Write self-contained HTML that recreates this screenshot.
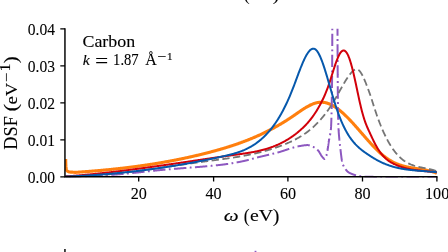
<!DOCTYPE html>
<html><head><meta charset="utf-8"><title>DSF Carbon</title>
<style>
html,body{margin:0;padding:0;background:#fff;}
body{width:448px;height:252px;overflow:hidden;position:relative;font-family:"Liberation Serif","DejaVu Serif",serif;color:#000;}
svg{position:absolute;left:0;top:0;display:block;}
text{font-family:"Liberation Serif","DejaVu Serif",serif;fill:#000;stroke:#000;stroke-width:0.1px;}
</style></head><body>
<svg width="448" height="252" viewBox="0 0 448 252">
<defs><clipPath id="ax"><rect x="65" y="28.6" width="372.4" height="149"/></clipPath></defs>
<rect width="448" height="252" fill="#fff"/>
<g clip-path="url(#ax)" fill="none" stroke-linejoin="round">
<path d="M65.70 159.00 L65.70 159.67 L65.71 160.33 L65.72 160.98 L65.73 161.61 L65.74 162.23 L65.76 162.84 L65.78 163.44 L65.80 164.02 L65.83 164.59 L65.85 165.14 L65.88 165.68 L65.91 166.21 L65.95 166.74 L66.01 167.28 L66.08 167.81 L66.15 168.32 L66.25 168.81 L66.35 169.27 L66.47 169.69 L66.59 170.06 L66.73 170.37 L66.94 170.66 L67.21 170.94 L67.54 171.22 L67.92 171.46 L68.33 171.67 L68.76 171.84 L69.20 171.96 L69.62 172.01 L70.06 172.05 L70.53 172.08 L71.01 172.10 L71.52 172.13 L72.05 172.15 L72.60 172.17 L73.17 172.18 L73.76 172.19 L74.37 172.20 L75.00 172.20 L75.00 172.41 L75.50 172.37 L76.00 172.34 L76.50 172.31 L77.00 172.27 L77.50 172.24 L78.00 172.20 L78.50 172.17 L79.00 172.14 L79.50 172.10 L80.00 172.07 L80.50 172.03 L81.00 171.99 L81.50 171.96 L82.00 171.92 L82.50 171.89 L83.00 171.85 L83.50 171.81 L84.00 171.78 L84.50 171.74 L85.00 171.70 L85.50 171.66 L86.00 171.63 L86.50 171.59 L87.00 171.55 L87.50 171.51 L88.00 171.47 L88.50 171.43 L89.00 171.40 L89.50 171.36 L90.00 171.32 L90.50 171.28 L91.00 171.24 L91.50 171.20 L92.00 171.15 L92.50 171.11 L93.00 171.07 L93.50 171.03 L94.00 170.99 L94.50 170.95 L95.00 170.91 L95.50 170.86 L96.00 170.82 L96.50 170.78 L97.00 170.74 L97.50 170.69 L98.00 170.65 L98.50 170.60 L99.00 170.56 L99.50 170.52 L100.00 170.47 L100.50 170.43 L101.00 170.38 L101.50 170.34 L102.00 170.29 L102.50 170.24 L103.00 170.20 L103.50 170.15 L104.00 170.10 L104.50 170.06 L105.00 170.01 L105.50 169.96 L106.00 169.91 L106.50 169.87 L107.00 169.82 L107.50 169.77 L108.00 169.72 L108.50 169.67 L109.00 169.62 L109.50 169.57 L110.00 169.52 L110.50 169.47 L111.00 169.42 L111.50 169.37 L112.00 169.32 L112.50 169.27 L113.00 169.21 L113.50 169.16 L114.00 169.11 L114.50 169.06 L115.00 169.00 L115.50 168.95 L116.00 168.90 L116.50 168.84 L117.00 168.79 L117.50 168.73 L118.00 168.68 L118.50 168.62 L119.00 168.57 L119.50 168.51 L120.00 168.46 L120.50 168.40 L121.00 168.34 L121.50 168.29 L122.00 168.23 L122.50 168.17 L123.00 168.11 L123.50 168.05 L124.00 167.99 L124.50 167.94 L125.00 167.88 L125.50 167.82 L126.00 167.76 L126.50 167.70 L127.00 167.64 L127.50 167.58 L128.00 167.51 L128.50 167.45 L129.00 167.39 L129.50 167.33 L130.00 167.27 L130.50 167.20 L131.00 167.14 L131.50 167.08 L132.00 167.01 L132.50 166.95 L133.00 166.88 L133.50 166.82 L134.00 166.75 L134.50 166.69 L135.00 166.62 L135.50 166.56 L136.00 166.49 L136.50 166.42 L137.00 166.35 L137.50 166.29 L138.00 166.22 L138.50 166.15 L139.00 166.08 L139.50 166.01 L140.00 165.94 L140.50 165.87 L141.00 165.80 L141.50 165.73 L142.00 165.66 L142.50 165.59 L143.00 165.52 L143.50 165.45 L144.00 165.37 L144.50 165.30 L145.00 165.23 L145.50 165.15 L146.00 165.08 L146.50 165.01 L147.00 164.93 L147.50 164.86 L148.00 164.78 L148.50 164.71 L149.00 164.63 L149.50 164.55 L150.00 164.48 L150.50 164.40 L151.00 164.32 L151.50 164.24 L152.00 164.16 L152.50 164.09 L153.00 164.01 L153.50 163.93 L154.00 163.85 L154.50 163.77 L155.00 163.69 L155.50 163.60 L156.00 163.52 L156.50 163.44 L157.00 163.36 L157.50 163.28 L158.00 163.19 L158.50 163.11 L159.00 163.03 L159.50 162.94 L160.00 162.86 L160.50 162.77 L161.00 162.69 L161.50 162.60 L162.00 162.51 L162.50 162.43 L163.00 162.34 L163.50 162.25 L164.00 162.16 L164.50 162.08 L165.00 161.99 L165.50 161.90 L166.00 161.81 L166.50 161.72 L167.00 161.63 L167.50 161.54 L168.00 161.44 L168.50 161.35 L169.00 161.26 L169.50 161.17 L170.00 161.08 L170.50 160.98 L171.00 160.89 L171.50 160.79 L172.00 160.70 L172.50 160.60 L173.00 160.51 L173.50 160.41 L174.00 160.32 L174.50 160.22 L175.00 160.12 L175.50 160.02 L176.00 159.92 L176.50 159.83 L177.00 159.73 L177.50 159.63 L178.00 159.53 L178.50 159.43 L179.00 159.33 L179.50 159.22 L180.00 159.12 L180.50 159.02 L181.00 158.92 L181.50 158.81 L182.00 158.71 L182.50 158.61 L183.00 158.50 L183.50 158.40 L184.00 158.29 L184.50 158.18 L185.00 158.08 L185.50 157.97 L186.00 157.86 L186.50 157.76 L187.00 157.65 L187.50 157.54 L188.00 157.43 L188.50 157.32 L189.00 157.21 L189.50 157.10 L190.00 156.99 L190.50 156.88 L191.00 156.76 L191.50 156.65 L192.00 156.54 L192.50 156.43 L193.00 156.31 L193.50 156.20 L194.00 156.08 L194.50 155.97 L195.00 155.85 L195.50 155.73 L196.00 155.62 L196.50 155.50 L197.00 155.38 L197.50 155.26 L198.00 155.14 L198.50 155.02 L199.00 154.90 L199.50 154.78 L200.00 154.66 L200.50 154.54 L201.00 154.42 L201.50 154.30 L202.00 154.17 L202.50 154.05 L203.00 153.93 L203.50 153.80 L204.00 153.68 L204.50 153.55 L205.00 153.43 L205.50 153.30 L206.00 153.17 L206.50 153.05 L207.00 152.92 L207.50 152.79 L208.00 152.66 L208.50 152.53 L209.00 152.40 L209.50 152.27 L210.00 152.14 L210.50 152.01 L211.00 151.87 L211.50 151.74 L212.00 151.61 L212.50 151.47 L213.00 151.34 L213.50 151.20 L214.00 151.07 L214.50 150.93 L215.00 150.80 L215.50 150.66 L216.00 150.52 L216.50 150.38 L217.00 150.24 L217.50 150.10 L218.00 149.96 L218.50 149.82 L219.00 149.68 L219.50 149.53 L220.00 149.39 L220.50 149.24 L221.00 149.10 L221.50 148.95 L222.00 148.81 L222.50 148.66 L223.00 148.51 L223.50 148.36 L224.00 148.21 L224.50 148.06 L225.00 147.91 L225.50 147.76 L226.00 147.61 L226.50 147.45 L227.00 147.30 L227.50 147.14 L228.00 146.99 L228.50 146.83 L229.00 146.67 L229.50 146.51 L230.00 146.35 L230.50 146.19 L231.00 146.03 L231.50 145.87 L232.00 145.70 L232.50 145.54 L233.00 145.37 L233.50 145.21 L234.00 145.04 L234.50 144.87 L235.00 144.70 L235.50 144.53 L236.00 144.36 L236.50 144.19 L237.00 144.02 L237.50 143.84 L238.00 143.67 L238.50 143.49 L239.00 143.31 L239.50 143.14 L240.00 142.96 L240.50 142.78 L241.00 142.60 L241.50 142.41 L242.00 142.23 L242.50 142.04 L243.00 141.86 L243.50 141.67 L244.00 141.48 L244.50 141.29 L245.00 141.10 L245.50 140.91 L246.00 140.72 L246.50 140.53 L247.00 140.33 L247.50 140.13 L248.00 139.94 L248.50 139.74 L249.00 139.54 L249.50 139.34 L250.00 139.14 L250.50 138.93 L251.00 138.73 L251.50 138.52 L252.00 138.31 L252.50 138.10 L253.00 137.89 L253.50 137.68 L254.00 137.47 L254.50 137.26 L255.00 137.04 L255.50 136.83 L256.00 136.61 L256.50 136.39 L257.00 136.17 L257.50 135.95 L258.00 135.72 L258.50 135.50 L259.00 135.27 L259.50 135.04 L260.00 134.82 L260.50 134.59 L261.00 134.35 L261.50 134.12 L262.00 133.89 L262.50 133.65 L263.00 133.41 L263.50 133.17 L264.00 132.93 L264.50 132.69 L265.00 132.45 L265.50 132.20 L266.00 131.96 L266.50 131.71 L267.00 131.46 L267.50 131.21 L268.00 130.96 L268.50 130.70 L269.00 130.45 L269.50 130.19 L270.00 129.93 L270.50 129.67 L271.00 129.41 L271.50 129.14 L272.00 128.88 L272.50 128.61 L273.00 128.34 L273.50 128.07 L274.00 127.80 L274.50 127.53 L275.00 127.25 L275.50 126.98 L276.00 126.70 L276.50 126.42 L277.00 126.13 L277.50 125.85 L278.00 125.57 L278.50 125.28 L279.00 124.99 L279.50 124.70 L280.00 124.41 L280.50 124.11 L281.00 123.82 L281.50 123.52 L282.00 123.22 L282.50 122.92 L283.00 122.61 L283.50 122.31 L284.00 122.00 L284.50 121.69 L285.00 121.38 L285.50 121.07 L286.00 120.76 L286.50 120.44 L287.00 120.12 L287.50 119.80 L288.00 119.48 L288.50 119.16 L289.00 118.83 L289.50 118.51 L290.00 118.18 L290.50 117.84 L291.00 117.51 L291.50 117.18 L292.00 116.84 L292.50 116.50 L293.00 116.16 L293.50 115.82 L294.00 115.47 L294.50 115.13 L295.00 114.78 L295.50 114.43 L296.00 114.08 L296.50 113.73 L297.00 113.38 L297.50 113.04 L298.00 112.69 L298.50 112.34 L299.00 112.00 L299.50 111.65 L300.00 111.31 L300.50 110.97 L301.00 110.63 L301.50 110.29 L302.00 109.96 L302.50 109.63 L303.00 109.31 L303.50 108.98 L304.00 108.66 L304.50 108.35 L305.00 108.04 L305.50 107.74 L306.00 107.44 L306.50 107.14 L307.00 106.85 L307.50 106.57 L308.00 106.29 L308.50 106.02 L309.00 105.76 L309.50 105.50 L310.00 105.25 L310.50 105.01 L311.00 104.78 L311.50 104.56 L312.00 104.34 L312.50 104.13 L313.00 103.93 L313.50 103.74 L314.00 103.56 L314.50 103.39 L315.00 103.23 L315.50 103.08 L316.00 102.95 L316.50 102.82 L317.00 102.70 L317.50 102.60 L318.00 102.51 L318.50 102.43 L319.00 102.36 L319.50 102.30 L320.00 102.26 L320.50 102.23 L321.00 102.22 L321.50 102.21 L322.00 102.23 L322.50 102.25 L323.00 102.29 L323.50 102.35 L324.00 102.41 L324.50 102.49 L325.00 102.59 L325.50 102.69 L326.00 102.81 L326.50 102.95 L327.00 103.09 L327.50 103.25 L328.00 103.41 L328.50 103.60 L329.00 103.79 L329.50 103.99 L330.00 104.21 L330.50 104.43 L331.00 104.67 L331.50 104.92 L332.00 105.17 L332.50 105.44 L333.00 105.72 L333.50 106.01 L334.00 106.31 L334.50 106.62 L335.00 106.94 L335.50 107.27 L336.00 107.60 L336.50 107.95 L337.00 108.31 L337.50 108.67 L338.00 109.04 L338.50 109.42 L339.00 109.81 L339.50 110.21 L340.00 110.61 L340.50 111.03 L341.00 111.45 L341.50 111.87 L342.00 112.31 L342.50 112.75 L343.00 113.20 L343.50 113.65 L344.00 114.12 L344.50 114.58 L345.00 115.06 L345.50 115.54 L346.00 116.02 L346.50 116.51 L347.00 117.01 L347.50 117.51 L348.00 118.02 L348.50 118.53 L349.00 119.05 L349.50 119.57 L350.00 120.09 L350.50 120.62 L351.00 121.15 L351.50 121.69 L352.00 122.23 L352.50 122.78 L353.00 123.32 L353.50 123.87 L354.00 124.43 L354.50 124.98 L355.00 125.54 L355.50 126.10 L356.00 126.67 L356.50 127.23 L357.00 127.80 L357.50 128.37 L358.00 128.94 L358.50 129.52 L359.00 130.09 L359.50 130.66 L360.00 131.24 L360.50 131.81 L361.00 132.39 L361.50 132.97 L362.00 133.55 L362.50 134.12 L363.00 134.70 L363.50 135.28 L364.00 135.85 L364.50 136.43 L365.00 137.00 L365.50 137.57 L366.00 138.15 L366.50 138.72 L367.00 139.28 L367.50 139.85 L368.00 140.41 L368.50 140.98 L369.00 141.53 L369.50 142.09 L370.00 142.64 L370.50 143.19 L371.00 143.74 L371.50 144.29 L372.00 144.83 L372.50 145.36 L373.00 145.89 L373.50 146.42 L374.00 146.95 L374.50 147.47 L375.00 147.98 L375.50 148.49 L376.00 148.99 L376.50 149.49 L377.00 149.99 L377.50 150.47 L378.00 150.95 L378.50 151.43 L379.00 151.90 L379.50 152.36 L380.00 152.82 L380.50 153.27 L381.00 153.71 L381.50 154.14 L382.00 154.57 L382.50 154.99 L383.00 155.40 L383.50 155.81 L384.00 156.20 L384.50 156.59 L385.00 156.97 L385.50 157.35 L386.00 157.71 L386.50 158.07 L387.00 158.42 L387.50 158.76 L388.00 159.09 L388.50 159.42 L389.00 159.74 L389.50 160.05 L390.00 160.36 L390.50 160.65 L391.00 160.94 L391.50 161.23 L392.00 161.50 L392.50 161.77 L393.00 162.03 L393.50 162.29 L394.00 162.54 L394.50 162.78 L395.00 163.02 L395.50 163.24 L396.00 163.47 L396.50 163.68 L397.00 163.89 L397.50 164.09 L398.00 164.29 L398.50 164.48 L399.00 164.66 L399.50 164.84 L400.00 165.01 L400.50 165.18 L401.00 165.34 L401.50 165.50 L402.00 165.65 L402.50 165.79 L403.00 165.94 L403.50 166.07 L404.00 166.20 L404.50 166.33 L405.00 166.46 L405.50 166.58 L406.00 166.69 L406.50 166.81 L407.00 166.92 L407.50 167.02 L408.00 167.13 L408.50 167.23 L409.00 167.32 L409.50 167.42 L410.00 167.51 L410.50 167.60 L411.00 167.69 L411.50 167.78 L412.00 167.86 L412.50 167.94 L413.00 168.02 L413.50 168.10 L414.00 168.18 L414.50 168.26 L415.00 168.34 L415.50 168.41 L416.00 168.49 L416.50 168.56 L417.00 168.64 L417.50 168.71 L418.00 168.79 L418.50 168.86 L419.00 168.94 L419.50 169.02 L420.00 169.09 L420.50 169.17 L421.00 169.25 L421.50 169.33 L422.00 169.41 L422.50 169.50 L423.00 169.58 L423.50 169.67 L424.00 169.76 L424.50 169.85 L425.00 169.95 L425.50 170.04 L426.00 170.14 L426.50 170.24 L427.00 170.35 L427.50 170.46 L428.00 170.57 L428.50 170.68 L429.00 170.80 L429.50 170.93 L430.00 171.05 L430.50 171.18 L431.00 171.32 L431.50 171.46 L432.00 171.60 L432.50 171.75 L433.00 171.91 L433.50 172.07 L434.00 172.23 L434.50 172.40 L435.00 172.58 L435.50 172.76 L436.00 172.95 L436.50 173.14 L436.80 173.26" stroke="#ff7f0e" stroke-width="3.1" stroke-linecap="butt"/>
<path d="M332.30 28.60 L332.30 29.09 L332.30 29.58 L332.30 30.07 L332.30 30.56 L332.30 31.05 L332.30 31.53 L332.29 32.02 L332.29 32.50 L332.29 32.98 L332.29 33.46 L332.29 33.94 L332.29 34.42 L332.29 34.90 L332.29 35.37 L332.29 35.85 L332.29 36.32 L332.29 36.79 L332.28 37.26 L332.28 37.73 L332.28 38.20 L332.28 38.67 L332.28 39.14 L332.28 39.60 L332.28 40.06 L332.28 40.53 L332.27 40.99 L332.27 41.45 L332.27 41.91 L332.27 42.36 L332.27 42.82 L332.27 43.27 L332.27 43.73 L332.26 44.18 L332.26 44.63 L332.26 45.08 L332.26 45.53 L332.26 45.98 L332.26 46.42 L332.26 46.87 L332.25 47.31 L332.25 47.75 L332.25 48.19 L332.25 48.63 L332.25 49.07 L332.25 49.51 L332.24 49.95 L332.24 50.38 L332.24 50.81 L332.24 51.25 L332.24 51.68 L332.24 52.11 L332.23 52.53 L332.23 52.96 L332.23 53.39 L332.23 53.81 L332.23 54.23 L332.22 54.66 L332.22 55.08 L332.22 55.50 L332.22 55.91 L332.22 56.33 L332.21 56.75 L332.21 57.16 L332.21 57.57 L332.21 57.98 L332.21 58.39 L332.20 58.80 L332.20 59.21 L332.20 59.62 L332.20 60.02 L332.20 60.42 L332.19 60.83 L332.19 61.23 L332.19 61.63 L332.19 62.03 L332.19 62.42 L332.18 62.82 L332.18 63.21 L332.18 63.61 L332.18 64.00 L332.17 64.39 L332.17 64.78 L332.17 65.16 L332.17 65.55 L332.17 65.94 L332.16 66.32 L332.16 66.70 L332.16 67.08 L332.16 67.46 L332.15 67.84 L332.15 68.22 L332.15 68.59 L332.15 68.97 L332.14 69.34 L332.14 69.71 L332.14 70.08 L332.14 70.45 L332.14 70.82 L332.13 71.18 L332.13 71.55 L332.13 71.91 L332.13 72.27 L332.12 72.64 L332.12 72.99 L332.12 73.35 L332.12 73.71 L332.11 74.06 L332.11 74.42 L332.11 74.77 L332.11 75.12 L332.10 75.47 L332.10 75.82 L332.10 76.17 L332.10 76.51 L332.09 76.85 L332.09 77.19 L332.09 77.53 L332.09 77.86 L332.08 78.20 L332.08 78.53 L332.08 78.85 L332.08 79.18 L332.07 79.50 L332.07 79.82 L332.07 80.14 L332.06 80.46 L332.06 80.78 L332.06 81.09 L332.06 81.40 L332.05 81.71 L332.05 82.02 L332.05 82.33 L332.04 82.63 L332.04 82.93 L332.04 83.24 L332.03 83.54 L332.03 83.84 L332.03 84.13 L332.03 84.43 L332.02 84.73 L332.02 85.02 L332.02 85.32 L332.01 85.61 L332.01 85.90 L332.01 86.19 L332.00 86.48 L332.00 86.77 L331.99 87.06 L331.99 87.34 L331.99 87.63 L331.98 87.92 L331.98 88.20 L331.98 88.49 L331.97 88.77 L331.97 89.06 L331.97 89.34 L331.96 89.62 L331.96 89.91 L331.95 90.19 L331.95 90.47 L331.95 90.76 L331.94 91.04 L331.94 91.32 L331.93 91.61 L331.93 91.89 L331.93 92.17 L331.92 92.46 L331.92 92.74 L331.91 93.03 L331.91 93.31 L331.90 93.60 L331.90 93.89 L331.90 94.17 L331.89 94.46 L331.89 94.75 L331.88 95.04 L331.88 95.33 L331.87 95.62 L331.87 95.91 L331.86 96.20 L331.86 96.50 L331.85 96.79 L331.85 97.09 L331.84 97.39 L331.84 97.69 L331.83 97.99 L331.83 98.29 L331.82 98.59 L331.82 98.90 L331.81 99.20 L331.81 99.51 L331.80 99.82 L331.80 100.13 L331.79 100.44 L331.79 100.76 L331.78 101.07 L331.78 101.39 L331.77 101.71 L331.76 102.04 L331.76 102.36 L331.75 102.69 L331.75 103.01 L331.74 103.34 L331.74 103.67 L331.73 104.01 L331.72 104.34 L331.72 104.67 L331.71 105.01 L331.71 105.34 L331.70 105.68 L331.69 106.02 L331.69 106.36 L331.68 106.70 L331.67 107.04 L331.67 107.39 L331.66 107.73 L331.65 108.07 L331.65 108.42 L331.64 108.76 L331.63 109.11 L331.63 109.45 L331.62 109.80 L331.61 110.14 L331.60 110.49 L331.60 110.84 L331.59 111.18 L331.58 111.53 L331.57 111.87 L331.56 112.22 L331.56 112.57 L331.55 112.91 L331.54 113.26 L331.53 113.60 L331.52 113.95 L331.51 114.29 L331.51 114.64 L331.50 114.98 L331.49 115.32 L331.48 115.66 L331.47 116.00 L331.46 116.34 L331.45 116.68 L331.44 117.02 L331.43 117.36 L331.42 117.69 L331.41 118.03 L331.40 118.36 L331.39 118.69 L331.38 119.02 L331.37 119.35 L331.36 119.68 L331.35 120.00 L331.34 120.33 L331.33 120.65 L331.32 120.97 L331.31 121.29 L331.29 121.61 L331.28 121.92 L331.27 122.24 L331.26 122.55 L331.25 122.86 L331.23 123.16 L331.22 123.47 L331.21 123.77 L331.20 124.07 L331.18 124.37 L331.17 124.66 L331.16 124.95 L331.14 125.24 L331.13 125.53 L331.12 125.81 L331.10 126.10 L331.09 126.37 L331.08 126.65 L331.06 126.92 L331.05 127.19 L331.03 127.46 L331.02 127.72 L331.00 127.98 L330.99 128.24 L330.97 128.49 L330.95 128.74 L330.93 128.99 L330.91 129.23 L330.89 129.48 L330.86 129.72 L330.84 129.96 L330.81 130.19 L330.79 130.43 L330.76 130.66 L330.73 130.89 L330.70 131.12 L330.67 131.35 L330.64 131.57 L330.61 131.79 L330.58 132.02 L330.54 132.24 L330.51 132.45 L330.47 132.67 L330.44 132.89 L330.40 133.10 L330.36 133.32 L330.33 133.53 L330.29 133.74 L330.25 133.95 L330.21 134.16 L330.17 134.37 L330.13 134.58 L330.09 134.78 L330.05 134.99 L330.01 135.20 L329.97 135.40 L329.93 135.61 L329.88 135.81 L329.84 136.02 L329.80 136.22 L329.76 136.43 L329.72 136.63 L329.67 136.84 L329.63 137.04 L329.59 137.25 L329.55 137.46 L329.50 137.66 L329.46 137.87 L329.42 138.08 L329.38 138.29 L329.34 138.49 L329.30 138.70 L329.26 138.91 L329.21 139.13 L329.17 139.34 L329.13 139.55 L329.10 139.77 L329.06 139.98 L329.02 140.20 L328.98 140.42 L328.94 140.64 L328.91 140.86 L328.87 141.09 L328.83 141.31 L328.80 141.54 L328.76 141.78 L328.73 142.01 L328.69 142.25 L328.66 142.49 L328.62 142.73 L328.59 142.97 L328.55 143.21 L328.52 143.46 L328.48 143.71 L328.45 143.96 L328.41 144.21 L328.38 144.46 L328.35 144.71 L328.31 144.96 L328.28 145.22 L328.24 145.47 L328.21 145.72 L328.17 145.98 L328.14 146.23 L328.11 146.49 L328.07 146.74 L328.04 147.00 L328.00 147.25 L327.97 147.50 L327.93 147.76 L327.90 148.01 L327.86 148.26 L327.83 148.51 L327.79 148.76 L327.76 149.01 L327.72 149.25 L327.69 149.50 L327.65 149.74 L327.61 149.98 L327.58 150.22 L327.54 150.46 L327.50 150.69 L327.47 150.92 L327.43 151.15 L327.39 151.38 L327.35 151.60 L327.31 151.82 L327.28 152.04 L327.24 152.26 L327.20 152.47 L327.16 152.68 L327.12 152.88 L327.08 153.08 L327.03 153.28 L326.99 153.47 L326.95 153.66 L326.91 153.85 L326.87 154.03 L326.82 154.20 L326.78 154.37 L326.73 154.54 L326.69 154.70 L326.64 154.86 L326.60 155.01 L326.55 155.16 L326.50 155.31 L326.45 155.47 L326.41 155.62 L326.36 155.78 L326.31 155.94 L326.26 156.10 L326.20 156.26 L326.15 156.42 L326.10 156.57 L326.05 156.73 L325.99 156.88 L325.94 157.04 L325.88 157.19 L325.82 157.33 L325.77 157.47 L325.71 157.61 L325.65 157.75 L325.59 157.88 L325.53 158.01 L325.47 158.12 L325.41 158.24 L325.35 158.35 L325.29 158.45 L325.23 158.54 L325.16 158.63 L325.10 158.71 L325.03 158.78 L324.97 158.84 L324.90 158.89 L324.84 158.93 L324.77 158.97 L324.70 158.99 L324.63 159.00 L324.57 159.00 L324.49 158.99 L324.42 158.97 L324.35 158.95 L324.27 158.91 L324.20 158.87 L324.12 158.82 L324.04 158.77 L323.96 158.71 L323.88 158.64 L323.80 158.57 L323.71 158.49 L323.63 158.41 L323.54 158.32 L323.46 158.23 L323.37 158.14 L323.28 158.04 L323.19 157.94 L323.11 157.84 L323.02 157.73 L322.93 157.63 L322.84 157.52 L322.75 157.41 L322.66 157.30 L322.57 157.19 L322.49 157.08 L322.40 156.98 L322.31 156.87 L322.22 156.76 L322.13 156.66 L322.05 156.55 L321.96 156.45 L321.87 156.35 L321.79 156.24 L321.70 156.13 L321.62 156.01 L321.53 155.89 L321.45 155.76 L321.37 155.64 L321.28 155.51 L321.20 155.37 L321.11 155.23 L321.03 155.10 L320.94 154.95 L320.86 154.81 L320.78 154.66 L320.69 154.52 L320.61 154.37 L320.52 154.22 L320.44 154.07 L320.35 153.91 L320.27 153.76 L320.18 153.61 L320.10 153.45 L320.01 153.30 L319.92 153.15 L319.83 152.99 L319.75 152.84 L319.66 152.69 L319.57 152.54 L319.48 152.39 L319.39 152.24 L319.29 152.09 L319.20 151.95 L319.11 151.80 L319.02 151.66 L318.92 151.52 L318.83 151.39 L318.73 151.26 L318.63 151.13 L318.53 151.00 L318.43 150.88 L318.33 150.76 L318.23 150.64 L318.13 150.53 L318.02 150.42 L317.92 150.31 L317.81 150.20 L317.70 150.10 L317.59 149.99 L317.48 149.88 L317.36 149.78 L317.25 149.67 L317.13 149.56 L317.02 149.46 L316.90 149.36 L316.78 149.25 L316.66 149.15 L316.54 149.05 L316.42 148.95 L316.29 148.85 L316.17 148.75 L316.05 148.65 L315.92 148.56 L315.79 148.46 L315.67 148.37 L315.54 148.28 L315.41 148.19 L315.28 148.10 L315.15 148.01 L315.02 147.92 L314.89 147.83 L314.76 147.75 L314.63 147.67 L314.50 147.59 L314.36 147.51 L314.23 147.43 L314.10 147.35 L313.97 147.28 L313.83 147.21 L313.70 147.14 L313.57 147.07 L313.43 147.00 L313.30 146.94 L313.17 146.88 L313.04 146.82 L312.90 146.76 L312.77 146.70 L312.64 146.64 L312.51 146.58 L312.37 146.52 L312.24 146.46 L312.10 146.40 L311.97 146.34 L311.84 146.28 L311.70 146.22 L311.57 146.16 L311.43 146.10 L311.29 146.05 L311.16 145.99 L311.02 145.93 L310.88 145.88 L310.75 145.82 L310.61 145.77 L310.47 145.72 L310.33 145.67 L310.19 145.62 L310.05 145.57 L309.90 145.52 L309.76 145.48 L309.62 145.44 L309.48 145.40 L309.33 145.36 L309.19 145.32 L309.04 145.29 L308.89 145.26 L308.74 145.23 L308.60 145.20 L308.45 145.18 L308.30 145.16 L308.14 145.14 L307.99 145.13 L307.84 145.11 L307.68 145.11 L307.53 145.10 L307.37 145.10 L307.21 145.10 L307.06 145.10 L306.90 145.11 L306.74 145.11 L306.58 145.12 L306.42 145.13 L306.26 145.14 L306.10 145.15 L305.94 145.16 L305.78 145.17 L305.62 145.18 L305.46 145.20 L305.29 145.21 L305.13 145.23 L304.96 145.25 L304.80 145.27 L304.63 145.29 L304.46 145.31 L304.30 145.33 L304.13 145.35 L303.96 145.38 L303.79 145.40 L303.61 145.43 L303.44 145.45 L303.26 145.48 L303.09 145.50 L302.91 145.53 L302.73 145.56 L302.55 145.59 L302.37 145.62 L302.19 145.65 L302.00 145.68 L301.82 145.71 L301.63 145.74 L301.44 145.77 L301.25 145.81 L301.06 145.84 L300.87 145.87 L300.67 145.90 L300.47 145.94 L300.27 145.97 L300.07 146.01 L299.87 146.04 L299.67 146.07 L299.46 146.11 L299.25 146.14 L299.04 146.18 L298.83 146.21 L298.61 146.25 L298.39 146.29 L298.17 146.33 L297.94 146.37 L297.72 146.42 L297.49 146.47 L297.25 146.52 L297.01 146.58 L296.77 146.63 L296.53 146.69 L296.29 146.75 L296.04 146.81 L295.79 146.88 L295.53 146.94 L295.28 147.01 L295.02 147.08 L294.76 147.15 L294.50 147.23 L294.23 147.30 L293.97 147.38 L293.70 147.46 L293.43 147.54 L293.16 147.62 L292.88 147.70 L292.61 147.79 L292.33 147.87 L292.05 147.96 L291.77 148.05 L291.49 148.14 L291.20 148.23 L290.92 148.32 L290.63 148.41 L290.34 148.50 L290.06 148.60 L289.77 148.69 L289.47 148.79 L289.18 148.88 L288.89 148.98 L288.59 149.07 L288.30 149.17 L288.00 149.27 L287.71 149.37 L287.41 149.47 L287.11 149.56 L286.82 149.66 L286.52 149.76 L286.22 149.86 L285.92 149.96 L285.62 150.06 L285.32 150.16 L285.02 150.26 L284.72 150.36 L284.43 150.46 L284.13 150.55 L283.83 150.65 L283.53 150.75 L283.23 150.85 L282.93 150.94 L282.63 151.04 L282.34 151.13 L282.04 151.23 L281.74 151.32 L281.45 151.41 L281.15 151.51 L280.86 151.60 L280.57 151.69 L280.27 151.78 L279.98 151.86 L279.69 151.95 L279.40 152.04 L279.12 152.12 L278.83 152.20 L278.54 152.28 L278.26 152.36 L277.98 152.44 L277.70 152.52 L277.42 152.60 L277.14 152.67 L276.86 152.74 L276.58 152.82 L276.29 152.89 L276.01 152.97 L275.72 153.04 L275.44 153.11 L275.15 153.19 L274.86 153.26 L274.57 153.33 L274.28 153.41 L273.99 153.48 L273.70 153.55 L273.41 153.63 L273.11 153.70 L272.82 153.77 L272.53 153.84 L272.23 153.92 L271.94 153.99 L271.64 154.06 L271.34 154.13 L271.05 154.20 L270.75 154.27 L270.45 154.35 L270.16 154.42 L269.86 154.49 L269.56 154.56 L269.27 154.63 L268.97 154.70 L268.67 154.77 L268.38 154.84 L268.08 154.91 L267.79 154.98 L267.49 155.05 L267.20 155.12 L266.90 155.19 L266.61 155.25 L266.31 155.32 L266.02 155.39 L265.73 155.46 L265.44 155.53 L265.15 155.60 L264.86 155.66 L264.57 155.73 L264.28 155.80 L264.00 155.86 L263.71 155.93 L263.43 156.00 L263.15 156.06 L262.86 156.13 L262.58 156.20 L262.31 156.26 L262.03 156.33 L261.75 156.39 L261.48 156.46 L261.21 156.52 L260.93 156.58 L260.67 156.65 L260.40 156.71 L260.13 156.78 L259.87 156.84 L259.61 156.90 L259.35 156.97 L259.09 157.03 L258.83 157.09 L258.58 157.15 L258.33 157.21 L258.08 157.27 L257.83 157.34 L257.59 157.40 L257.34 157.46 L257.10 157.52 L256.87 157.58 L256.63 157.64 L256.40 157.70 L256.17 157.76 L255.95 157.81 L255.72 157.87 L255.50 157.93 L255.29 157.99 L255.07 158.05 L254.86 158.10 L254.66 158.16 L254.45 158.21 L254.25 158.27 L254.05 158.33 L253.86 158.38 L253.66 158.44 L253.47 158.49 L253.28 158.54 L253.09 158.60 L252.91 158.65 L252.72 158.71 L252.54 158.76 L252.36 158.81 L252.18 158.86 L252.00 158.92 L251.82 158.97 L251.64 159.02 L251.46 159.07 L251.29 159.12 L251.11 159.18 L250.93 159.23 L250.76 159.28 L250.58 159.33 L250.40 159.38 L250.23 159.43 L250.05 159.48 L249.87 159.53 L249.69 159.58 L249.51 159.63 L249.33 159.68 L249.15 159.73 L248.97 159.78 L248.78 159.83 L248.59 159.88 L248.41 159.93 L248.22 159.99 L248.02 160.04 L247.83 160.09 L247.63 160.14 L247.43 160.19 L247.23 160.24 L247.03 160.29 L246.82 160.34 L246.61 160.39 L246.40 160.44 L246.18 160.49 L245.96 160.54 L245.73 160.59 L245.51 160.64 L245.28 160.70 L245.04 160.75 L244.81 160.80 L244.57 160.85 L244.33 160.90 L244.09 160.96 L243.84 161.01 L243.59 161.06 L243.34 161.12 L243.09 161.17 L242.84 161.22 L242.58 161.28 L242.32 161.33 L242.06 161.38 L241.79 161.44 L241.53 161.49 L241.26 161.55 L240.99 161.60 L240.72 161.65 L240.45 161.71 L240.17 161.76 L239.90 161.82 L239.62 161.87 L239.34 161.93 L239.06 161.98 L238.78 162.03 L238.50 162.09 L238.21 162.14 L237.92 162.20 L237.64 162.25 L237.35 162.30 L237.06 162.36 L236.77 162.41 L236.48 162.47 L236.19 162.52 L235.89 162.57 L235.60 162.63 L235.31 162.68 L235.01 162.73 L234.71 162.78 L234.42 162.84 L234.12 162.89 L233.82 162.94 L233.53 162.99 L233.23 163.04 L232.93 163.09 L232.63 163.14 L232.33 163.19 L232.03 163.24 L231.73 163.29 L231.43 163.34 L231.14 163.39 L230.84 163.44 L230.54 163.49 L230.24 163.53 L229.94 163.58 L229.64 163.63 L229.35 163.68 L229.05 163.72 L228.75 163.77 L228.46 163.81 L228.16 163.86 L227.86 163.90 L227.57 163.94 L227.28 163.99 L226.98 164.03 L226.69 164.07 L226.40 164.11 L226.11 164.15 L225.82 164.19 L225.54 164.23 L225.25 164.27 L224.96 164.31 L224.68 164.35 L224.40 164.39 L224.12 164.42 L223.83 164.46 L223.55 164.50 L223.27 164.53 L222.99 164.57 L222.71 164.60 L222.43 164.64 L222.14 164.67 L221.86 164.71 L221.58 164.74 L221.30 164.77 L221.02 164.81 L220.73 164.84 L220.45 164.87 L220.17 164.91 L219.89 164.94 L219.61 164.97 L219.32 165.00 L219.04 165.04 L218.76 165.07 L218.48 165.10 L218.20 165.13 L217.91 165.16 L217.63 165.19 L217.35 165.22 L217.07 165.25 L216.79 165.28 L216.50 165.31 L216.22 165.34 L215.94 165.37 L215.66 165.40 L215.37 165.43 L215.09 165.46 L214.81 165.49 L214.53 165.52 L214.25 165.54 L213.96 165.57 L213.68 165.60 L213.40 165.63 L213.12 165.66 L212.83 165.68 L212.55 165.71 L212.27 165.74 L211.99 165.77 L211.70 165.79 L211.42 165.82 L211.14 165.85 L210.86 165.88 L210.57 165.90 L210.29 165.93 L210.01 165.95 L209.73 165.98 L209.44 166.01 L209.16 166.03 L208.88 166.06 L208.60 166.09 L208.31 166.11 L208.03 166.14 L207.75 166.16 L207.47 166.19 L207.18 166.22 L206.90 166.24 L206.62 166.27 L206.33 166.29 L206.05 166.32 L205.77 166.34 L205.49 166.37 L205.20 166.39 L204.92 166.42 L204.64 166.44 L204.36 166.47 L204.07 166.50 L203.79 166.52 L203.51 166.55 L203.22 166.57 L202.94 166.60 L202.66 166.62 L202.38 166.65 L202.09 166.67 L201.81 166.70 L201.53 166.72 L201.24 166.75 L200.96 166.77 L200.68 166.79 L200.39 166.82 L200.11 166.84 L199.83 166.87 L199.55 166.89 L199.26 166.91 L198.98 166.94 L198.70 166.96 L198.41 166.98 L198.13 167.01 L197.85 167.03 L197.56 167.05 L197.28 167.07 L197.00 167.10 L196.71 167.12 L196.43 167.14 L196.15 167.16 L195.86 167.19 L195.58 167.21 L195.30 167.23 L195.01 167.25 L194.73 167.27 L194.45 167.30 L194.16 167.32 L193.88 167.34 L193.60 167.36 L193.31 167.38 L193.03 167.40 L192.74 167.43 L192.46 167.45 L192.18 167.47 L191.89 167.49 L191.61 167.51 L191.33 167.53 L191.04 167.55 L190.76 167.58 L190.48 167.60 L190.19 167.62 L189.91 167.64 L189.63 167.66 L189.34 167.68 L189.06 167.70 L188.78 167.73 L188.49 167.75 L188.21 167.77 L187.93 167.79 L187.64 167.81 L187.36 167.83 L187.08 167.86 L186.79 167.88 L186.51 167.90 L186.23 167.92 L185.94 167.94 L185.66 167.96 L185.38 167.99 L185.09 168.01 L184.81 168.03 L184.53 168.05 L184.24 168.07 L183.96 168.10 L183.68 168.12 L183.39 168.14 L183.11 168.16 L182.83 168.19 L182.54 168.21 L182.26 168.23 L181.98 168.25 L181.70 168.28 L181.41 168.30 L181.13 168.32 L180.84 168.35 L180.56 168.37 L180.27 168.39 L179.98 168.42 L179.69 168.44 L179.40 168.46 L179.11 168.49 L178.82 168.51 L178.52 168.53 L178.23 168.56 L177.93 168.58 L177.64 168.60 L177.34 168.63 L177.04 168.65 L176.75 168.68 L176.45 168.70 L176.15 168.72 L175.85 168.75 L175.55 168.77 L175.25 168.80 L174.95 168.82 L174.65 168.85 L174.35 168.87 L174.05 168.89 L173.75 168.92 L173.45 168.94 L173.15 168.97 L172.85 168.99 L172.55 169.02 L172.25 169.04 L171.95 169.06 L171.65 169.09 L171.35 169.11 L171.05 169.14 L170.75 169.16 L170.46 169.19 L170.16 169.21 L169.87 169.24 L169.57 169.26 L169.28 169.28 L168.98 169.31 L168.69 169.33 L168.40 169.36 L168.11 169.38 L167.82 169.40 L167.54 169.43 L167.25 169.45 L166.96 169.48 L166.68 169.50 L166.40 169.53 L166.12 169.55 L165.84 169.57 L165.56 169.60 L165.28 169.62 L165.01 169.64 L164.73 169.67 L164.46 169.69 L164.19 169.72 L163.93 169.74 L163.66 169.76 L163.40 169.79 L163.14 169.81 L162.88 169.83 L162.62 169.86 L162.36 169.88 L162.11 169.90 L161.86 169.92 L161.61 169.95 L161.37 169.97 L161.12 169.99 L160.88 170.02 L160.65 170.04 L160.41 170.06 L160.18 170.08 L159.95 170.10 L159.72 170.13 L159.50 170.15 L159.28 170.17 L159.07 170.19 L158.85 170.21 L158.64 170.23 L158.44 170.26 L158.23 170.28 L158.03 170.30 L157.83 170.32 L157.64 170.34 L157.44 170.36 L157.25 170.38 L157.06 170.40 L156.87 170.42 L156.68 170.44 L156.50 170.46 L156.31 170.48 L156.13 170.50 L155.95 170.52 L155.76 170.54 L155.58 170.56 L155.40 170.58 L155.22 170.60 L155.04 170.62 L154.86 170.64 L154.68 170.66 L154.50 170.68 L154.33 170.70 L154.14 170.72 L153.96 170.74 L153.78 170.76 L153.60 170.78 L153.42 170.80 L153.23 170.82 L153.05 170.84 L152.86 170.86 L152.67 170.88 L152.48 170.90 L152.29 170.92 L152.09 170.94 L151.90 170.96 L151.70 170.99 L151.50 171.01 L151.30 171.03 L151.09 171.05 L150.88 171.07 L150.67 171.10 L150.45 171.12 L150.23 171.14 L150.01 171.17 L149.79 171.19 L149.56 171.22 L149.32 171.24 L149.09 171.26 L148.85 171.29 L148.61 171.32 L148.36 171.34 L148.12 171.37 L147.87 171.39 L147.61 171.42 L147.36 171.45 L147.10 171.48 L146.84 171.50 L146.57 171.53 L146.31 171.56 L146.04 171.59 L145.77 171.62 L145.49 171.65 L145.22 171.67 L144.94 171.70 L144.66 171.73 L144.38 171.76 L144.10 171.79 L143.82 171.82 L143.53 171.85 L143.25 171.88 L142.96 171.91 L142.67 171.95 L142.38 171.98 L142.08 172.01 L141.79 172.04 L141.49 172.07 L141.20 172.10 L140.90 172.13 L140.60 172.16 L140.31 172.19 L140.01 172.23 L139.71 172.26 L139.41 172.29 L139.11 172.32 L138.81 172.35 L138.50 172.38 L138.20 172.41 L137.90 172.45 L137.60 172.48 L137.30 172.51 L136.99 172.54 L136.69 172.57 L136.39 172.60 L136.09 172.63 L135.79 172.66 L135.49 172.69 L135.19 172.72 L134.89 172.75 L134.59 172.78 L134.29 172.82 L134.00 172.85 L133.70 172.87 L133.41 172.90 L133.11 172.93 L132.82 172.96 L132.53 172.99 L132.24 173.02 L131.95 173.05 L131.66 173.08 L131.37 173.11 L131.09 173.13 L130.81 173.16 L130.52 173.19 L130.25 173.22 L129.97 173.24 L129.69 173.27 L129.42 173.29 L129.15 173.32 L128.88 173.35 L128.61 173.37 L128.35 173.40 L128.08 173.42 L127.82 173.44 L127.56 173.47 L127.30 173.49 L127.04 173.52 L126.79 173.54 L126.53 173.56 L126.27 173.59 L126.02 173.61 L125.76 173.64 L125.51 173.66 L125.25 173.68 L125.00 173.71 L124.75 173.73 L124.50 173.75 L124.25 173.77 L124.00 173.80 L123.75 173.82 L123.50 173.84 L123.25 173.87 L123.00 173.89 L122.76 173.91 L122.51 173.93 L122.26 173.95 L122.02 173.98 L121.77 174.00 L121.53 174.02 L121.28 174.04 L121.04 174.06 L120.79 174.09 L120.55 174.11 L120.31 174.13 L120.06 174.15 L119.82 174.17 L119.58 174.19 L119.34 174.21 L119.09 174.23 L118.85 174.26 L118.61 174.28 L118.37 174.30 L118.13 174.32 L117.89 174.34 L117.64 174.36 L117.40 174.38 L117.16 174.40 L116.92 174.42 L116.68 174.44 L116.44 174.46 L116.20 174.48 L115.96 174.50 L115.72 174.52 L115.47 174.54 L115.23 174.55 L114.99 174.57 L114.75 174.59 L114.51 174.61 L114.26 174.63 L114.02 174.65 L113.78 174.67 L113.54 174.69 L113.29 174.70 L113.05 174.72 L112.80 174.74 L112.56 174.76 L112.31 174.78 L112.07 174.79 L111.82 174.81 L111.58 174.83 L111.34 174.85 L111.10 174.87 L110.85 174.88 L110.61 174.90 L110.37 174.92 L110.14 174.93 L109.90 174.95 L109.66 174.97 L109.43 174.99 L109.19 175.00 L108.96 175.02 L108.72 175.04 L108.49 175.05 L108.25 175.07 L108.02 175.09 L107.79 175.10 L107.55 175.12 L107.32 175.13 L107.09 175.15 L106.86 175.17 L106.62 175.18 L106.39 175.20 L106.16 175.21 L105.93 175.23 L105.70 175.25 L105.46 175.26 L105.23 175.28 L105.00 175.29 L104.76 175.31 L104.53 175.32 L104.29 175.34 L104.06 175.35 L103.82 175.37 L103.58 175.38 L103.35 175.40 L103.11 175.41 L102.87 175.43 L102.63 175.44 L102.39 175.46 L102.15 175.47 L101.91 175.49 L101.66 175.50 L101.42 175.52 L101.17 175.53 L100.92 175.55 L100.68 175.56 L100.43 175.57 L100.17 175.59 L99.92 175.60 L99.67 175.62 L99.41 175.63 L99.15 175.64 L98.90 175.66 L98.63 175.67 L98.37 175.68 L98.11 175.70 L97.84 175.71 L97.57 175.72 L97.30 175.74 L97.03 175.75 L96.76 175.76 L96.48 175.78 L96.20 175.79 L95.92 175.80 L95.64 175.82 L95.35 175.83 L95.07 175.84 L94.78 175.86 L94.50 175.87 L94.21 175.88 L93.92 175.89 L93.63 175.91 L93.33 175.92 L93.04 175.93 L92.74 175.94 L92.45 175.96 L92.15 175.97 L91.85 175.98 L91.55 175.99 L91.25 176.01 L90.95 176.02 L90.64 176.03 L90.34 176.04 L90.03 176.06 L89.72 176.07 L89.41 176.08 L89.10 176.09 L88.79 176.10 L88.48 176.12 L88.16 176.13 L87.85 176.14 L87.53 176.15 L87.21 176.17 L86.89 176.18 L86.57 176.19 L86.25 176.20 L85.93 176.21 L85.60 176.22 L85.28 176.24 L84.95 176.25 L84.62 176.26 L84.29 176.27 L83.96 176.28 L83.63 176.29 L83.30 176.31 L82.96 176.32 L82.63 176.33 L82.29 176.34 L81.95 176.35 L81.61 176.36 L81.27 176.37 L80.93 176.38 L80.59 176.39 L80.24 176.41 L79.90 176.42 L79.55 176.43 L79.20 176.44 L78.85 176.45 L78.50 176.46 L78.15 176.47 L77.80 176.48 L77.45 176.49 L77.09 176.50 L76.73 176.51 L76.38 176.52 L76.02 176.53 L75.66 176.54 L75.30 176.55 L74.94 176.56 L74.57 176.57 L74.21 176.58 L73.84 176.59 L73.48 176.60 L73.11 176.61 L72.74 176.62 L72.37 176.63 L72.00 176.64 L71.62 176.65 L71.25 176.66 L70.87 176.67 L70.50 176.68 L70.12 176.69 L69.74 176.70 L69.36 176.71 L68.98 176.72 L68.60 176.73 L68.22 176.74 L67.83 176.75 L67.45 176.76 L67.06 176.76 L66.67 176.77 L66.28 176.78 L65.89 176.79 L65.50 176.80" stroke="#8d58c0" stroke-width="2" stroke-dasharray="12.4 3.4 1.8 3.4" stroke-dashoffset="15.9"/>
<path d="M337.50 28.60 L337.50 29.06 L337.50 29.52 L337.50 29.97 L337.50 30.43 L337.51 30.89 L337.51 31.34 L337.51 31.80 L337.51 32.25 L337.51 32.71 L337.51 33.16 L337.51 33.61 L337.51 34.06 L337.51 34.51 L337.52 34.97 L337.52 35.42 L337.52 35.86 L337.52 36.31 L337.52 36.76 L337.52 37.21 L337.52 37.66 L337.53 38.10 L337.53 38.55 L337.53 38.99 L337.53 39.44 L337.53 39.88 L337.53 40.32 L337.53 40.77 L337.54 41.21 L337.54 41.65 L337.54 42.09 L337.54 42.53 L337.54 42.97 L337.54 43.41 L337.54 43.85 L337.55 44.29 L337.55 44.72 L337.55 45.16 L337.55 45.59 L337.55 46.03 L337.55 46.46 L337.56 46.90 L337.56 47.33 L337.56 47.76 L337.56 48.20 L337.56 48.63 L337.56 49.06 L337.57 49.49 L337.57 49.92 L337.57 50.35 L337.57 50.77 L337.57 51.20 L337.58 51.63 L337.58 52.05 L337.58 52.48 L337.58 52.91 L337.58 53.33 L337.58 53.75 L337.59 54.18 L337.59 54.60 L337.59 55.02 L337.59 55.44 L337.59 55.86 L337.60 56.28 L337.60 56.70 L337.60 57.12 L337.60 57.54 L337.60 57.96 L337.61 58.37 L337.61 58.79 L337.61 59.20 L337.61 59.62 L337.61 60.03 L337.62 60.45 L337.62 60.86 L337.62 61.27 L337.62 61.68 L337.62 62.09 L337.63 62.50 L337.63 62.91 L337.63 63.32 L337.63 63.73 L337.63 64.14 L337.64 64.54 L337.64 64.95 L337.64 65.36 L337.64 65.76 L337.64 66.17 L337.65 66.57 L337.65 66.97 L337.65 67.38 L337.65 67.78 L337.66 68.18 L337.66 68.58 L337.66 68.98 L337.66 69.38 L337.66 69.78 L337.67 70.17 L337.67 70.57 L337.67 70.97 L337.67 71.36 L337.68 71.76 L337.68 72.15 L337.68 72.55 L337.68 72.94 L337.68 73.33 L337.69 73.73 L337.69 74.12 L337.69 74.51 L337.69 74.90 L337.70 75.29 L337.70 75.68 L337.70 76.06 L337.70 76.45 L337.71 76.84 L337.71 77.23 L337.71 77.62 L337.71 78.00 L337.71 78.39 L337.72 78.78 L337.72 79.17 L337.72 79.55 L337.72 79.94 L337.73 80.33 L337.73 80.71 L337.73 81.10 L337.73 81.49 L337.74 81.87 L337.74 82.26 L337.74 82.64 L337.74 83.03 L337.75 83.41 L337.75 83.80 L337.75 84.18 L337.75 84.57 L337.76 84.95 L337.76 85.33 L337.76 85.72 L337.76 86.10 L337.77 86.48 L337.77 86.86 L337.77 87.24 L337.77 87.62 L337.78 88.00 L337.78 88.38 L337.78 88.76 L337.79 89.13 L337.79 89.51 L337.79 89.89 L337.79 90.26 L337.80 90.64 L337.80 91.01 L337.80 91.38 L337.81 91.75 L337.81 92.13 L337.81 92.50 L337.81 92.87 L337.82 93.24 L337.82 93.60 L337.82 93.97 L337.83 94.34 L337.83 94.70 L337.83 95.07 L337.84 95.43 L337.84 95.79 L337.84 96.15 L337.85 96.51 L337.85 96.87 L337.85 97.23 L337.86 97.59 L337.86 97.94 L337.86 98.30 L337.87 98.65 L337.87 99.00 L337.87 99.36 L337.88 99.71 L337.88 100.05 L337.88 100.40 L337.89 100.75 L337.89 101.09 L337.89 101.44 L337.90 101.78 L337.90 102.12 L337.90 102.46 L337.91 102.80 L337.91 103.13 L337.92 103.47 L337.92 103.80 L337.92 104.13 L337.93 104.46 L337.93 104.79 L337.93 105.12 L337.94 105.45 L337.94 105.77 L337.95 106.09 L337.95 106.42 L337.95 106.73 L337.96 107.05 L337.96 107.37 L337.97 107.68 L337.97 108.00 L337.98 108.31 L337.98 108.62 L337.98 108.92 L337.99 109.23 L337.99 109.53 L338.00 109.83 L338.00 110.13 L338.01 110.43 L338.01 110.73 L338.02 111.02 L338.02 111.31 L338.03 111.60 L338.03 111.88 L338.03 112.16 L338.04 112.44 L338.04 112.72 L338.05 113.00 L338.05 113.28 L338.06 113.55 L338.06 113.82 L338.07 114.09 L338.08 114.36 L338.08 114.62 L338.09 114.89 L338.09 115.15 L338.10 115.41 L338.10 115.67 L338.11 115.93 L338.11 116.19 L338.12 116.44 L338.13 116.70 L338.13 116.95 L338.14 117.21 L338.14 117.46 L338.15 117.71 L338.16 117.96 L338.16 118.21 L338.17 118.46 L338.18 118.71 L338.18 118.96 L338.19 119.21 L338.20 119.46 L338.21 119.70 L338.21 119.95 L338.22 120.20 L338.23 120.45 L338.23 120.69 L338.24 120.94 L338.25 121.19 L338.26 121.43 L338.27 121.68 L338.27 121.93 L338.28 122.18 L338.29 122.43 L338.30 122.68 L338.31 122.92 L338.32 123.18 L338.32 123.43 L338.33 123.68 L338.34 123.93 L338.35 124.18 L338.36 124.44 L338.37 124.69 L338.38 124.95 L338.39 125.21 L338.40 125.47 L338.41 125.73 L338.42 125.99 L338.43 126.25 L338.44 126.52 L338.45 126.79 L338.46 127.05 L338.47 127.32 L338.48 127.59 L338.49 127.87 L338.51 128.14 L338.52 128.42 L338.53 128.70 L338.54 128.98 L338.56 129.26 L338.57 129.55 L338.59 129.83 L338.61 130.12 L338.62 130.41 L338.64 130.70 L338.66 130.99 L338.68 131.29 L338.70 131.58 L338.72 131.88 L338.74 132.17 L338.76 132.47 L338.78 132.77 L338.80 133.07 L338.83 133.37 L338.85 133.67 L338.87 133.98 L338.90 134.28 L338.92 134.59 L338.95 134.89 L338.98 135.20 L339.00 135.50 L339.03 135.81 L339.06 136.12 L339.08 136.42 L339.11 136.73 L339.14 137.04 L339.17 137.34 L339.20 137.65 L339.23 137.96 L339.25 138.27 L339.28 138.58 L339.31 138.88 L339.34 139.19 L339.38 139.50 L339.41 139.80 L339.44 140.11 L339.47 140.41 L339.50 140.72 L339.53 141.02 L339.56 141.33 L339.59 141.63 L339.63 141.93 L339.66 142.23 L339.69 142.53 L339.72 142.83 L339.76 143.13 L339.79 143.43 L339.82 143.73 L339.85 144.02 L339.89 144.31 L339.92 144.61 L339.95 144.90 L339.98 145.19 L340.02 145.48 L340.05 145.76 L340.08 146.05 L340.11 146.33 L340.15 146.61 L340.18 146.89 L340.21 147.17 L340.24 147.44 L340.27 147.72 L340.30 147.99 L340.34 148.26 L340.37 148.52 L340.40 148.79 L340.43 149.05 L340.46 149.31 L340.49 149.57 L340.52 149.82 L340.55 150.08 L340.58 150.33 L340.61 150.57 L340.64 150.82 L340.67 151.07 L340.70 151.32 L340.72 151.56 L340.75 151.81 L340.78 152.06 L340.81 152.31 L340.84 152.56 L340.87 152.80 L340.90 153.05 L340.93 153.30 L340.95 153.54 L340.98 153.79 L341.01 154.04 L341.04 154.28 L341.07 154.52 L341.10 154.77 L341.13 155.01 L341.15 155.25 L341.18 155.49 L341.21 155.73 L341.24 155.97 L341.27 156.21 L341.30 156.44 L341.33 156.67 L341.36 156.91 L341.39 157.14 L341.42 157.37 L341.45 157.59 L341.48 157.82 L341.51 158.04 L341.54 158.26 L341.57 158.48 L341.60 158.70 L341.63 158.92 L341.66 159.13 L341.69 159.34 L341.73 159.55 L341.76 159.75 L341.79 159.96 L341.82 160.16 L341.86 160.36 L341.89 160.55 L341.92 160.74 L341.96 160.93 L341.99 161.12 L342.02 161.30 L342.06 161.48 L342.09 161.66 L342.13 161.83 L342.16 162.00 L342.20 162.16 L342.24 162.33 L342.27 162.49 L342.31 162.64 L342.35 162.79 L342.38 162.94 L342.42 163.08 L342.46 163.22 L342.50 163.36 L342.54 163.49 L342.58 163.61 L342.62 163.74 L342.65 163.86 L342.69 163.98 L342.73 164.10 L342.78 164.21 L342.82 164.32 L342.86 164.43 L342.90 164.54 L342.94 164.64 L342.99 164.75 L343.03 164.85 L343.08 164.95 L343.12 165.06 L343.17 165.16 L343.22 165.26 L343.27 165.36 L343.31 165.46 L343.36 165.56 L343.42 165.67 L343.47 165.77 L343.52 165.88 L343.58 165.98 L343.63 166.09 L343.69 166.20 L343.75 166.31 L343.81 166.42 L343.87 166.54 L343.93 166.66 L344.00 166.78 L344.07 166.91 L344.14 167.03 L344.21 167.16 L344.29 167.29 L344.37 167.43 L344.45 167.56 L344.53 167.70 L344.62 167.84 L344.71 167.98 L344.80 168.12 L344.89 168.26 L344.98 168.40 L345.08 168.55 L345.18 168.69 L345.28 168.83 L345.38 168.98 L345.48 169.12 L345.58 169.26 L345.69 169.40 L345.79 169.55 L345.90 169.69 L346.01 169.83 L346.12 169.96 L346.23 170.10 L346.34 170.23 L346.45 170.37 L346.56 170.50 L346.67 170.63 L346.78 170.75 L346.89 170.87 L347.00 170.99 L347.11 171.11 L347.23 171.23 L347.34 171.34 L347.45 171.44 L347.56 171.55 L347.67 171.65 L347.78 171.74 L347.89 171.83 L347.99 171.92 L348.10 172.00 L348.21 172.08 L348.31 172.16 L348.42 172.23 L348.53 172.30 L348.64 172.37 L348.74 172.44 L348.85 172.51 L348.96 172.58 L349.07 172.64 L349.18 172.71 L349.29 172.77 L349.40 172.83 L349.51 172.89 L349.62 172.95 L349.73 173.01 L349.84 173.07 L349.96 173.12 L350.07 173.18 L350.18 173.23 L350.30 173.29 L350.42 173.34 L350.53 173.39 L350.65 173.44 L350.77 173.49 L350.89 173.55 L351.01 173.60 L351.13 173.65 L351.25 173.70 L351.37 173.75 L351.49 173.80 L351.62 173.85 L351.75 173.90 L351.87 173.95 L352.00 174.00 L352.13 174.05 L352.26 174.10 L352.39 174.15 L352.52 174.20 L352.66 174.26 L352.79 174.31 L352.93 174.36 L353.07 174.41 L353.21 174.46 L353.35 174.51 L353.49 174.56 L353.63 174.61 L353.77 174.66 L353.92 174.71 L354.06 174.76 L354.21 174.81 L354.35 174.86 L354.50 174.91 L354.65 174.96 L354.80 175.00 L354.95 175.05 L355.10 175.10 L355.25 175.14 L355.40 175.19 L355.55 175.23 L355.70 175.27 L355.86 175.32 L356.01 175.36 L356.17 175.40 L356.32 175.44 L356.48 175.48 L356.63 175.52 L356.79 175.55 L356.95 175.59 L357.10 175.63 L357.26 175.66 L357.42 175.69 L357.58 175.72 L357.74 175.75 L357.90 175.78 L358.06 175.81 L358.21 175.84 L358.37 175.86 L358.53 175.89 L358.68 175.92 L358.84 175.94 L359.00 175.97 L359.15 176.00 L359.31 176.02 L359.46 176.05 L359.61 176.07 L359.77 176.10 L359.92 176.12 L360.08 176.15 L360.23 176.17 L360.39 176.19 L360.55 176.22 L360.71 176.24 L360.86 176.26 L361.02 176.29 L361.18 176.31 L361.34 176.33 L361.51 176.35 L361.67 176.37 L361.84 176.39 L362.00 176.41 L362.17 176.43 L362.34 176.45 L362.52 176.47 L362.69 176.48 L362.87 176.50 L363.04 176.52 L363.23 176.54 L363.41 176.55 L363.59 176.57 L363.78 176.58 L363.97 176.60 L364.17 176.61 L364.37 176.62 L364.57 176.63 L364.77 176.65 L364.97 176.66 L365.18 176.67 L365.40 176.68 L365.61 176.69 L365.83 176.69 L366.06 176.70 L366.29 176.71 L366.52 176.72 L366.76 176.72 L367.01 176.73 L367.26 176.74 L367.51 176.75 L367.77 176.75 L368.04 176.76 L368.31 176.77 L368.58 176.77 L368.86 176.78 L369.15 176.79 L369.43 176.79 L369.73 176.80 L370.02 176.81 L370.33 176.81 L370.63 176.82 L370.94 176.83 L371.25 176.83 L371.57 176.84 L371.89 176.85 L372.22 176.85 L372.54 176.86 L372.88 176.87 L373.21 176.87 L373.55 176.88 L373.89 176.88 L374.24 176.89 L374.59 176.90 L374.94 176.90 L375.29 176.91 L375.65 176.91 L376.01 176.92 L376.37 176.92 L376.74 176.93 L377.10 176.93 L377.47 176.94 L377.85 176.95 L378.22 176.95 L378.60 176.96 L378.98 176.96 L379.36 176.97 L379.74 176.97 L380.13 176.97 L380.51 176.98 L380.90 176.98 L381.29 176.99 L381.68 176.99 L382.07 177.00 L382.47 177.00 L382.86 177.01 L383.26 177.01 L383.66 177.01 L384.06 177.02 L384.46 177.02 L384.86 177.03 L385.26 177.03 L385.66 177.03 L386.06 177.04 L386.46 177.04 L386.87 177.04 L387.27 177.05 L387.67 177.05 L388.08 177.05 L388.48 177.06 L388.88 177.06 L389.29 177.06 L389.69 177.06 L390.09 177.07 L390.50 177.07 L390.90 177.07 L391.30 177.07 L391.70 177.08 L392.10 177.08 L392.50 177.08 L392.90 177.08 L393.30 177.08 L393.70 177.09 L394.09 177.09 L394.49 177.09 L394.88 177.09 L395.27 177.09 L395.66 177.09 L396.05 177.09 L396.44 177.10 L396.82 177.10 L397.20 177.10 L397.59 177.10 L397.97 177.10 L398.34 177.10 L398.72 177.10 L399.09 177.10 L399.46 177.10 L399.83 177.10 L400.20 177.10 L400.56 177.10 L400.93 177.10 L401.30 177.10 L401.66 177.10 L402.03 177.10 L402.40 177.10 L402.76 177.10 L403.13 177.10 L403.50 177.10 L403.87 177.10 L404.23 177.10 L404.60 177.10 L404.97 177.10 L405.34 177.10 L405.71 177.10 L406.07 177.10 L406.44 177.10 L406.81 177.10 L407.18 177.10 L407.55 177.10 L407.92 177.10 L408.29 177.10 L408.66 177.10 L409.03 177.10 L409.40 177.10 L409.77 177.10 L410.14 177.10 L410.51 177.10 L410.88 177.10 L411.25 177.10 L411.62 177.10 L411.99 177.10 L412.36 177.10 L412.73 177.10 L413.10 177.10 L413.48 177.10 L413.85 177.10 L414.22 177.10 L414.59 177.10 L414.96 177.10 L415.33 177.10 L415.71 177.10 L416.08 177.10 L416.45 177.10 L416.83 177.10 L417.20 177.10 L417.57 177.10 L417.94 177.10 L418.32 177.10 L418.69 177.10 L419.07 177.10 L419.44 177.10 L419.81 177.10 L420.19 177.10 L420.56 177.10 L420.94 177.10 L421.31 177.10 L421.69 177.10 L422.06 177.10 L422.44 177.10 L422.81 177.10 L423.19 177.10 L423.56 177.10 L423.94 177.10 L424.31 177.10 L424.69 177.10 L425.07 177.10 L425.44 177.10 L425.82 177.10 L426.19 177.10 L426.57 177.10 L426.95 177.10 L427.33 177.10 L427.70 177.10 L428.08 177.10 L428.46 177.10 L428.84 177.10 L429.21 177.10 L429.59 177.10 L429.97 177.10 L430.35 177.10 L430.73 177.10 L431.10 177.10 L431.48 177.10 L431.86 177.10 L432.24 177.10 L432.62 177.10 L433.00 177.10 L433.38 177.10 L433.76 177.10 L434.14 177.10 L434.52 177.10 L434.90 177.10 L435.28 177.10 L435.66 177.10 L436.04 177.10 L436.42 177.10 L436.80 177.10" stroke="#8d58c0" stroke-width="2" stroke-dasharray="12.4 3.4 1.8 3.4" stroke-dashoffset="5.3"/>
<path d="M65.50 176.45 L66.00 176.45 L66.50 176.45 L67.00 176.45 L67.50 176.45 L68.00 176.45 L68.50 176.45 L69.00 176.44 L69.50 176.44 L70.00 176.44 L70.50 176.43 L71.00 176.43 L71.50 176.42 L72.00 176.41 L72.50 176.41 L73.00 176.40 L73.50 176.39 L74.00 176.38 L74.50 176.37 L75.00 176.36 L75.50 176.35 L76.00 176.34 L76.50 176.33 L77.00 176.31 L77.50 176.30 L78.00 176.29 L78.50 176.27 L79.00 176.25 L79.50 176.24 L80.00 176.22 L80.50 176.20 L81.00 176.19 L81.50 176.17 L82.00 176.15 L82.50 176.13 L83.00 176.11 L83.50 176.09 L84.00 176.07 L84.50 176.04 L85.00 176.02 L85.50 176.00 L86.00 175.97 L86.50 175.95 L87.00 175.92 L87.50 175.90 L88.00 175.87 L88.50 175.84 L89.00 175.82 L89.50 175.79 L90.00 175.76 L90.50 175.73 L91.00 175.70 L91.50 175.67 L92.00 175.64 L92.50 175.61 L93.00 175.58 L93.50 175.55 L94.00 175.51 L94.50 175.48 L95.00 175.45 L95.50 175.41 L96.00 175.38 L96.50 175.34 L97.00 175.31 L97.50 175.27 L98.00 175.23 L98.50 175.20 L99.00 175.16 L99.50 175.12 L100.00 175.08 L100.50 175.04 L101.00 175.00 L101.50 174.96 L102.00 174.92 L102.50 174.88 L103.00 174.84 L103.50 174.80 L104.00 174.75 L104.50 174.71 L105.00 174.67 L105.50 174.62 L106.00 174.58 L106.50 174.53 L107.00 174.49 L107.50 174.44 L108.00 174.40 L108.50 174.35 L109.00 174.30 L109.50 174.26 L110.00 174.21 L110.50 174.16 L111.00 174.11 L111.50 174.06 L112.00 174.01 L112.50 173.96 L113.00 173.91 L113.50 173.86 L114.00 173.81 L114.50 173.76 L115.00 173.71 L115.50 173.66 L116.00 173.61 L116.50 173.55 L117.00 173.50 L117.50 173.45 L118.00 173.39 L118.50 173.34 L119.00 173.28 L119.50 173.23 L120.00 173.17 L120.50 173.12 L121.00 173.06 L121.50 173.00 L122.00 172.95 L122.50 172.89 L123.00 172.83 L123.50 172.78 L124.00 172.72 L124.50 172.66 L125.00 172.60 L125.50 172.54 L126.00 172.48 L126.50 172.42 L127.00 172.36 L127.50 172.30 L128.00 172.24 L128.50 172.18 L129.00 172.12 L129.50 172.06 L130.00 172.00 L130.50 171.94 L131.00 171.87 L131.50 171.81 L132.00 171.75 L132.50 171.69 L133.00 171.62 L133.50 171.56 L134.00 171.49 L134.50 171.43 L135.00 171.37 L135.50 171.30 L136.00 171.24 L136.50 171.17 L137.00 171.11 L137.50 171.04 L138.00 170.98 L138.50 170.91 L139.00 170.84 L139.50 170.78 L140.00 170.71 L140.50 170.64 L141.00 170.58 L141.50 170.51 L142.00 170.44 L142.50 170.37 L143.00 170.31 L143.50 170.24 L144.00 170.17 L144.50 170.10 L145.00 170.03 L145.50 169.96 L146.00 169.90 L146.50 169.83 L147.00 169.76 L147.50 169.69 L148.00 169.62 L148.50 169.55 L149.00 169.48 L149.50 169.41 L150.00 169.34 L150.50 169.27 L151.00 169.20 L151.50 169.13 L152.00 169.06 L152.50 168.99 L153.00 168.91 L153.50 168.84 L154.00 168.77 L154.50 168.70 L155.00 168.63 L155.50 168.56 L156.00 168.49 L156.50 168.41 L157.00 168.34 L157.50 168.27 L158.00 168.20 L158.50 168.13 L159.00 168.05 L159.50 167.98 L160.00 167.91 L160.50 167.84 L161.00 167.76 L161.50 167.69 L162.00 167.62 L162.50 167.54 L163.00 167.47 L163.50 167.40 L164.00 167.33 L164.50 167.25 L165.00 167.18 L165.50 167.11 L166.00 167.03 L166.50 166.96 L167.00 166.89 L167.50 166.81 L168.00 166.74 L168.50 166.67 L169.00 166.59 L169.50 166.52 L170.00 166.45 L170.50 166.37 L171.00 166.30 L171.50 166.23 L172.00 166.15 L172.50 166.08 L173.00 166.00 L173.50 165.93 L174.00 165.86 L174.50 165.78 L175.00 165.71 L175.50 165.64 L176.00 165.56 L176.50 165.49 L177.00 165.42 L177.50 165.34 L178.00 165.27 L178.50 165.20 L179.00 165.12 L179.50 165.05 L180.00 164.98 L180.50 164.91 L181.00 164.83 L181.50 164.76 L182.00 164.69 L182.50 164.61 L183.00 164.54 L183.50 164.47 L184.00 164.40 L184.50 164.32 L185.00 164.25 L185.50 164.18 L186.00 164.11 L186.50 164.04 L187.00 163.96 L187.50 163.89 L188.00 163.82 L188.50 163.75 L189.00 163.68 L189.50 163.60 L190.00 163.53 L190.50 163.46 L191.00 163.39 L191.50 163.32 L192.00 163.25 L192.50 163.18 L193.00 163.11 L193.50 163.04 L194.00 162.97 L194.50 162.90 L195.00 162.83 L195.50 162.76 L196.00 162.69 L196.50 162.62 L197.00 162.55 L197.50 162.48 L198.00 162.41 L198.50 162.34 L199.00 162.27 L199.50 162.20 L200.00 162.14 L200.50 162.07 L201.00 162.00 L201.50 161.93 L202.00 161.87 L202.50 161.80 L203.00 161.73 L203.50 161.66 L204.00 161.60 L204.50 161.53 L205.00 161.46 L205.50 161.40 L206.00 161.33 L206.50 161.27 L207.00 161.20 L207.50 161.13 L208.00 161.07 L208.50 161.00 L209.00 160.94 L209.50 160.87 L210.00 160.81 L210.50 160.74 L211.00 160.68 L211.50 160.61 L212.00 160.55 L212.50 160.48 L213.00 160.42 L213.50 160.35 L214.00 160.28 L214.50 160.22 L215.00 160.15 L215.50 160.09 L216.00 160.02 L216.50 159.96 L217.00 159.89 L217.50 159.82 L218.00 159.76 L218.50 159.69 L219.00 159.62 L219.50 159.56 L220.00 159.49 L220.50 159.42 L221.00 159.35 L221.50 159.29 L222.00 159.22 L222.50 159.15 L223.00 159.08 L223.50 159.01 L224.00 158.94 L224.50 158.87 L225.00 158.80 L225.50 158.73 L226.00 158.66 L226.50 158.59 L227.00 158.52 L227.50 158.45 L228.00 158.37 L228.50 158.30 L229.00 158.23 L229.50 158.15 L230.00 158.08 L230.50 158.01 L231.00 157.93 L231.50 157.86 L232.00 157.78 L232.50 157.70 L233.00 157.63 L233.50 157.55 L234.00 157.47 L234.50 157.39 L235.00 157.31 L235.50 157.23 L236.00 157.15 L236.50 157.07 L237.00 156.99 L237.50 156.90 L238.00 156.82 L238.50 156.74 L239.00 156.65 L239.50 156.57 L240.00 156.48 L240.50 156.39 L241.00 156.31 L241.50 156.22 L242.00 156.13 L242.50 156.04 L243.00 155.95 L243.50 155.86 L244.00 155.76 L244.50 155.67 L245.00 155.58 L245.50 155.48 L246.00 155.39 L246.50 155.29 L247.00 155.19 L247.50 155.09 L248.00 155.00 L248.50 154.90 L249.00 154.79 L249.50 154.69 L250.00 154.59 L250.50 154.48 L251.00 154.38 L251.50 154.27 L252.00 154.17 L252.50 154.06 L253.00 153.95 L253.50 153.84 L254.00 153.73 L254.50 153.62 L255.00 153.50 L255.50 153.39 L256.00 153.27 L256.50 153.15 L257.00 153.04 L257.50 152.92 L258.00 152.80 L258.50 152.68 L259.00 152.55 L259.50 152.43 L260.00 152.30 L260.50 152.18 L261.00 152.05 L261.50 151.92 L262.00 151.79 L262.50 151.66 L263.00 151.53 L263.50 151.39 L264.00 151.26 L264.50 151.12 L265.00 150.98 L265.50 150.84 L266.00 150.70 L266.50 150.56 L267.00 150.41 L267.50 150.27 L268.00 150.12 L268.50 149.97 L269.00 149.82 L269.50 149.67 L270.00 149.52 L270.50 149.37 L271.00 149.21 L271.50 149.05 L272.00 148.90 L272.50 148.73 L273.00 148.57 L273.50 148.41 L274.00 148.24 L274.50 148.08 L275.00 147.91 L275.50 147.74 L276.00 147.57 L276.50 147.40 L277.00 147.22 L277.50 147.04 L278.00 146.87 L278.50 146.69 L279.00 146.51 L279.50 146.32 L280.00 146.14 L280.50 145.95 L281.00 145.76 L281.50 145.57 L282.00 145.38 L282.50 145.18 L283.00 144.99 L283.50 144.79 L284.00 144.59 L284.50 144.39 L285.00 144.19 L285.50 143.98 L286.00 143.77 L286.50 143.57 L287.00 143.35 L287.50 143.14 L288.00 142.93 L288.50 142.71 L289.00 142.49 L289.50 142.27 L290.00 142.04 L290.50 141.81 L291.00 141.58 L291.50 141.35 L292.00 141.11 L292.50 140.87 L293.00 140.63 L293.50 140.39 L294.00 140.14 L294.50 139.88 L295.00 139.63 L295.50 139.37 L296.00 139.10 L296.50 138.84 L297.00 138.57 L297.50 138.29 L298.00 138.01 L298.50 137.73 L299.00 137.44 L299.50 137.15 L300.00 136.85 L300.50 136.55 L301.00 136.25 L301.50 135.93 L302.00 135.62 L302.50 135.30 L303.00 134.97 L303.50 134.64 L304.00 134.31 L304.50 133.97 L305.00 133.62 L305.50 133.27 L306.00 132.91 L306.50 132.55 L307.00 132.18 L307.50 131.80 L308.00 131.42 L308.50 131.03 L309.00 130.64 L309.50 130.24 L310.00 129.83 L310.50 129.42 L311.00 129.00 L311.50 128.58 L312.00 128.14 L312.50 127.70 L313.00 127.26 L313.50 126.80 L314.00 126.34 L314.50 125.88 L315.00 125.40 L315.50 124.92 L316.00 124.43 L316.50 123.93 L317.00 123.43 L317.50 122.91 L318.00 122.39 L318.50 121.86 L319.00 121.33 L319.50 120.78 L320.00 120.23 L320.50 119.67 L321.00 119.10 L321.50 118.52 L322.00 117.93 L322.50 117.33 L323.00 116.73 L323.50 116.11 L324.00 115.49 L324.50 114.86 L325.00 114.22 L325.50 113.57 L326.00 112.91 L326.50 112.24 L327.00 111.56 L327.50 110.87 L328.00 110.17 L328.50 109.46 L329.00 108.74 L329.50 108.01 L330.00 107.27 L330.50 106.52 L331.00 105.77 L331.50 105.00 L332.00 104.22 L332.50 103.42 L333.00 102.62 L333.50 101.81 L334.00 100.99 L334.50 100.15 L335.00 99.31 L335.50 98.45 L336.00 97.58 L336.50 96.71 L337.00 95.82 L337.50 94.93 L338.00 94.04 L338.50 93.14 L339.00 92.24 L339.50 91.34 L340.00 90.43 L340.50 89.53 L341.00 88.63 L341.50 87.74 L342.00 86.84 L342.50 85.96 L343.00 85.08 L343.50 84.21 L344.00 83.35 L344.50 82.50 L345.00 81.66 L345.50 80.84 L346.00 80.03 L346.50 79.23 L347.00 78.45 L347.50 77.69 L348.00 76.95 L348.50 76.23 L349.00 75.53 L349.50 74.86 L350.00 74.20 L350.50 73.58 L351.00 72.98 L351.50 72.41 L352.00 71.88 L352.50 71.39 L353.00 70.94 L353.50 70.54 L354.00 70.19 L354.50 69.89 L355.00 69.66 L355.50 69.49 L356.00 69.39 L356.50 69.36 L357.00 69.40 L357.50 69.53 L358.00 69.74 L358.50 70.04 L359.00 70.44 L359.50 70.92 L360.00 71.50 L360.50 72.15 L361.00 72.89 L361.50 73.70 L362.00 74.58 L362.50 75.52 L363.00 76.53 L363.50 77.58 L364.00 78.69 L364.50 79.85 L365.00 81.04 L365.50 82.27 L366.00 83.52 L366.50 84.81 L367.00 86.11 L367.50 87.44 L368.00 88.77 L368.50 90.11 L369.00 91.47 L369.50 92.85 L370.00 94.27 L370.50 95.73 L371.00 97.23 L371.50 98.78 L372.00 100.35 L372.50 101.94 L373.00 103.53 L373.50 105.12 L374.00 106.71 L374.50 108.27 L375.00 109.80 L375.50 111.31 L376.00 112.79 L376.50 114.25 L377.00 115.68 L377.50 117.09 L378.00 118.47 L378.50 119.82 L379.00 121.15 L379.50 122.46 L380.00 123.74 L380.50 125.00 L381.00 126.23 L381.50 127.44 L382.00 128.62 L382.50 129.78 L383.00 130.92 L383.50 132.04 L384.00 133.13 L384.50 134.20 L385.00 135.25 L385.50 136.27 L386.00 137.28 L386.50 138.26 L387.00 139.22 L387.50 140.16 L388.00 141.08 L388.50 141.98 L389.00 142.85 L389.50 143.71 L390.00 144.55 L390.50 145.36 L391.00 146.16 L391.50 146.94 L392.00 147.70 L392.50 148.43 L393.00 149.15 L393.50 149.86 L394.00 150.54 L394.50 151.20 L395.00 151.85 L395.50 152.48 L396.00 153.09 L396.50 153.68 L397.00 154.26 L397.50 154.82 L398.00 155.36 L398.50 155.89 L399.00 156.39 L399.50 156.89 L400.00 157.37 L400.50 157.83 L401.00 158.28 L401.50 158.71 L402.00 159.12 L402.50 159.53 L403.00 159.92 L403.50 160.29 L404.00 160.66 L404.50 161.01 L405.00 161.34 L405.50 161.67 L406.00 161.98 L406.50 162.28 L407.00 162.57 L407.50 162.85 L408.00 163.12 L408.50 163.38 L409.00 163.63 L409.50 163.87 L410.00 164.09 L410.50 164.31 L411.00 164.53 L411.50 164.73 L412.00 164.92 L412.50 165.11 L413.00 165.29 L413.50 165.46 L414.00 165.63 L414.50 165.78 L415.00 165.94 L415.50 166.08 L416.00 166.22 L416.50 166.36 L417.00 166.49 L417.50 166.62 L418.00 166.74 L418.50 166.86 L419.00 166.97 L419.50 167.08 L420.00 167.19 L420.50 167.30 L421.00 167.40 L421.50 167.50 L422.00 167.60 L422.50 167.70 L423.00 167.79 L423.50 167.89 L424.00 167.98 L424.50 168.08 L425.00 168.18 L425.50 168.27 L426.00 168.37 L426.50 168.47 L427.00 168.57 L427.50 168.67 L428.00 168.77 L428.50 168.88 L429.00 168.99 L429.50 169.10 L430.00 169.21 L430.50 169.33 L431.00 169.45 L431.50 169.58 L432.00 169.71 L432.50 169.85 L433.00 169.99 L433.50 170.14 L434.00 170.29 L434.50 170.45 L435.00 170.62 L435.50 170.79 L436.00 170.97 L436.50 171.16 L436.80 171.28" stroke="#757575" stroke-width="1.8" stroke-dasharray="7.3 3.5" stroke-dashoffset="4.08"/>
<path d="M65.50 176.44 L66.00 176.41 L66.50 176.37 L67.00 176.33 L67.50 176.30 L68.00 176.26 L68.50 176.22 L69.00 176.19 L69.50 176.15 L70.00 176.11 L70.50 176.07 L71.00 176.04 L71.50 176.00 L72.00 175.96 L72.50 175.92 L73.00 175.88 L73.50 175.84 L74.00 175.80 L74.50 175.76 L75.00 175.72 L75.50 175.68 L76.00 175.64 L76.50 175.60 L77.00 175.56 L77.50 175.51 L78.00 175.47 L78.50 175.43 L79.00 175.39 L79.50 175.34 L80.00 175.30 L80.50 175.26 L81.00 175.21 L81.50 175.17 L82.00 175.13 L82.50 175.08 L83.00 175.04 L83.50 174.99 L84.00 174.95 L84.50 174.90 L85.00 174.85 L85.50 174.81 L86.00 174.76 L86.50 174.72 L87.00 174.67 L87.50 174.62 L88.00 174.57 L88.50 174.53 L89.00 174.48 L89.50 174.43 L90.00 174.38 L90.50 174.33 L91.00 174.28 L91.50 174.24 L92.00 174.19 L92.50 174.14 L93.00 174.09 L93.50 174.04 L94.00 173.99 L94.50 173.94 L95.00 173.89 L95.50 173.83 L96.00 173.78 L96.50 173.73 L97.00 173.68 L97.50 173.63 L98.00 173.58 L98.50 173.52 L99.00 173.47 L99.50 173.42 L100.00 173.36 L100.50 173.31 L101.00 173.26 L101.50 173.20 L102.00 173.15 L102.50 173.10 L103.00 173.04 L103.50 172.99 L104.00 172.93 L104.50 172.88 L105.00 172.82 L105.50 172.77 L106.00 172.71 L106.50 172.66 L107.00 172.60 L107.50 172.54 L108.00 172.49 L108.50 172.43 L109.00 172.37 L109.50 172.32 L110.00 172.26 L110.50 172.20 L111.00 172.14 L111.50 172.09 L112.00 172.03 L112.50 171.97 L113.00 171.91 L113.50 171.85 L114.00 171.79 L114.50 171.73 L115.00 171.68 L115.50 171.62 L116.00 171.56 L116.50 171.50 L117.00 171.44 L117.50 171.38 L118.00 171.32 L118.50 171.26 L119.00 171.20 L119.50 171.13 L120.00 171.07 L120.50 171.01 L121.00 170.95 L121.50 170.89 L122.00 170.83 L122.50 170.77 L123.00 170.70 L123.50 170.64 L124.00 170.58 L124.50 170.52 L125.00 170.45 L125.50 170.39 L126.00 170.33 L126.50 170.27 L127.00 170.20 L127.50 170.14 L128.00 170.07 L128.50 170.01 L129.00 169.95 L129.50 169.88 L130.00 169.82 L130.50 169.75 L131.00 169.69 L131.50 169.62 L132.00 169.56 L132.50 169.50 L133.00 169.43 L133.50 169.36 L134.00 169.30 L134.50 169.23 L135.00 169.17 L135.50 169.10 L136.00 169.04 L136.50 168.97 L137.00 168.90 L137.50 168.84 L138.00 168.77 L138.50 168.70 L139.00 168.64 L139.50 168.57 L140.00 168.50 L140.50 168.44 L141.00 168.37 L141.50 168.30 L142.00 168.23 L142.50 168.17 L143.00 168.10 L143.50 168.03 L144.00 167.96 L144.50 167.89 L145.00 167.83 L145.50 167.76 L146.00 167.69 L146.50 167.62 L147.00 167.55 L147.50 167.48 L148.00 167.41 L148.50 167.34 L149.00 167.28 L149.50 167.21 L150.00 167.14 L150.50 167.07 L151.00 167.00 L151.50 166.93 L152.00 166.86 L152.50 166.79 L153.00 166.72 L153.50 166.65 L154.00 166.58 L154.50 166.51 L155.00 166.44 L155.50 166.37 L156.00 166.30 L156.50 166.23 L157.00 166.16 L157.50 166.08 L158.00 166.01 L158.50 165.94 L159.00 165.87 L159.50 165.80 L160.00 165.73 L160.50 165.66 L161.00 165.59 L161.50 165.51 L162.00 165.44 L162.50 165.37 L163.00 165.30 L163.50 165.23 L164.00 165.16 L164.50 165.08 L165.00 165.01 L165.50 164.94 L166.00 164.87 L166.50 164.80 L167.00 164.72 L167.50 164.65 L168.00 164.58 L168.50 164.51 L169.00 164.43 L169.50 164.36 L170.00 164.29 L170.50 164.22 L171.00 164.14 L171.50 164.07 L172.00 164.00 L172.50 163.93 L173.00 163.85 L173.50 163.78 L174.00 163.71 L174.50 163.63 L175.00 163.56 L175.50 163.49 L176.00 163.41 L176.50 163.34 L177.00 163.27 L177.50 163.19 L178.00 163.12 L178.50 163.05 L179.00 162.97 L179.50 162.90 L180.00 162.83 L180.50 162.75 L181.00 162.68 L181.50 162.61 L182.00 162.53 L182.50 162.46 L183.00 162.39 L183.50 162.31 L184.00 162.24 L184.50 162.16 L185.00 162.09 L185.50 162.02 L186.00 161.94 L186.50 161.87 L187.00 161.79 L187.50 161.72 L188.00 161.65 L188.50 161.57 L189.00 161.50 L189.50 161.43 L190.00 161.35 L190.50 161.28 L191.00 161.20 L191.50 161.13 L192.00 161.06 L192.50 160.98 L193.00 160.91 L193.50 160.83 L194.00 160.76 L194.50 160.69 L195.00 160.61 L195.50 160.54 L196.00 160.46 L196.50 160.39 L197.00 160.32 L197.50 160.24 L198.00 160.17 L198.50 160.09 L199.00 160.02 L199.50 159.95 L200.00 159.87 L200.50 159.80 L201.00 159.72 L201.50 159.65 L202.00 159.58 L202.50 159.50 L203.00 159.43 L203.50 159.36 L204.00 159.28 L204.50 159.21 L205.00 159.13 L205.50 159.06 L206.00 158.99 L206.50 158.91 L207.00 158.84 L207.50 158.77 L208.00 158.69 L208.50 158.62 L209.00 158.55 L209.50 158.47 L210.00 158.40 L210.50 158.33 L211.00 158.25 L211.50 158.18 L212.00 158.11 L212.50 158.03 L213.00 157.96 L213.50 157.89 L214.00 157.81 L214.50 157.74 L215.00 157.67 L215.50 157.59 L216.00 157.52 L216.50 157.45 L217.00 157.38 L217.50 157.30 L218.00 157.23 L218.50 157.16 L219.00 157.09 L219.50 157.01 L220.00 156.94 L220.50 156.87 L221.00 156.80 L221.50 156.72 L222.00 156.65 L222.50 156.58 L223.00 156.51 L223.50 156.44 L224.00 156.36 L224.50 156.29 L225.00 156.22 L225.50 156.15 L226.00 156.08 L226.50 156.01 L227.00 155.93 L227.50 155.86 L228.00 155.79 L228.50 155.72 L229.00 155.65 L229.50 155.58 L230.00 155.51 L230.50 155.44 L231.00 155.37 L231.50 155.30 L232.00 155.22 L232.50 155.15 L233.00 155.08 L233.50 155.01 L234.00 154.94 L234.50 154.87 L235.00 154.80 L235.50 154.73 L236.00 154.66 L236.50 154.59 L237.00 154.52 L237.50 154.45 L238.00 154.38 L238.50 154.31 L239.00 154.24 L239.50 154.17 L240.00 154.10 L240.50 154.03 L241.00 153.96 L241.50 153.89 L242.00 153.82 L242.50 153.75 L243.00 153.67 L243.50 153.60 L244.00 153.53 L244.50 153.45 L245.00 153.38 L245.50 153.30 L246.00 153.23 L246.50 153.15 L247.00 153.07 L247.50 152.99 L248.00 152.91 L248.50 152.83 L249.00 152.75 L249.50 152.66 L250.00 152.58 L250.50 152.49 L251.00 152.41 L251.50 152.32 L252.00 152.23 L252.50 152.14 L253.00 152.05 L253.50 151.95 L254.00 151.86 L254.50 151.76 L255.00 151.66 L255.50 151.56 L256.00 151.46 L256.50 151.36 L257.00 151.25 L257.50 151.14 L258.00 151.03 L258.50 150.92 L259.00 150.81 L259.50 150.69 L260.00 150.58 L260.50 150.46 L261.00 150.34 L261.50 150.21 L262.00 150.09 L262.50 149.96 L263.00 149.83 L263.50 149.70 L264.00 149.56 L264.50 149.42 L265.00 149.28 L265.50 149.14 L266.00 148.99 L266.50 148.85 L267.00 148.69 L267.50 148.54 L268.00 148.38 L268.50 148.23 L269.00 148.06 L269.50 147.90 L270.00 147.73 L270.50 147.56 L271.00 147.38 L271.50 147.21 L272.00 147.03 L272.50 146.84 L273.00 146.66 L273.50 146.46 L274.00 146.27 L274.50 146.07 L275.00 145.87 L275.50 145.67 L276.00 145.46 L276.50 145.25 L277.00 145.03 L277.50 144.82 L278.00 144.59 L278.50 144.37 L279.00 144.14 L279.50 143.90 L280.00 143.67 L280.50 143.42 L281.00 143.18 L281.50 142.93 L282.00 142.68 L282.50 142.42 L283.00 142.16 L283.50 141.89 L284.00 141.62 L284.50 141.34 L285.00 141.06 L285.50 140.78 L286.00 140.49 L286.50 140.20 L287.00 139.90 L287.50 139.60 L288.00 139.29 L288.50 138.98 L289.00 138.67 L289.50 138.34 L290.00 138.02 L290.50 137.69 L291.00 137.35 L291.50 137.01 L292.00 136.67 L292.50 136.32 L293.00 135.96 L293.50 135.60 L294.00 135.23 L294.50 134.86 L295.00 134.49 L295.50 134.10 L296.00 133.72 L296.50 133.32 L297.00 132.93 L297.50 132.52 L298.00 132.11 L298.50 131.70 L299.00 131.28 L299.50 130.85 L300.00 130.42 L300.50 129.98 L301.00 129.54 L301.50 129.09 L302.00 128.63 L302.50 128.16 L303.00 127.69 L303.50 127.21 L304.00 126.72 L304.50 126.23 L305.00 125.72 L305.50 125.21 L306.00 124.69 L306.50 124.15 L307.00 123.61 L307.50 123.06 L308.00 122.49 L308.50 121.92 L309.00 121.33 L309.50 120.73 L310.00 120.12 L310.50 119.50 L311.00 118.87 L311.50 118.22 L312.00 117.56 L312.50 116.89 L313.00 116.20 L313.50 115.50 L314.00 114.78 L314.50 114.05 L315.00 113.30 L315.50 112.54 L316.00 111.76 L316.50 110.96 L317.00 110.15 L317.50 109.33 L318.00 108.48 L318.50 107.62 L319.00 106.74 L319.50 105.84 L320.00 104.93 L320.50 103.99 L321.00 103.04 L321.50 102.06 L322.00 101.07 L322.50 100.05 L323.00 99.02 L323.50 97.96 L324.00 96.87 L324.50 95.75 L325.00 94.61 L325.50 93.43 L326.00 92.22 L326.50 90.97 L327.00 89.69 L327.50 88.36 L328.00 87.00 L328.50 85.59 L329.00 84.13 L329.50 82.64 L330.00 81.11 L330.50 79.56 L331.00 77.98 L331.50 76.39 L332.00 74.79 L332.50 73.19 L333.00 71.59 L333.50 70.01 L334.00 68.44 L334.50 66.90 L335.00 65.39 L335.50 63.92 L336.00 62.49 L336.50 61.11 L337.00 59.79 L337.50 58.53 L338.00 57.34 L338.50 56.22 L339.00 55.19 L339.50 54.25 L340.00 53.40 L340.50 52.66 L341.00 52.02 L341.50 51.50 L342.00 51.08 L342.50 50.78 L343.00 50.59 L343.50 50.52 L344.00 50.56 L344.50 50.72 L345.00 50.99 L345.50 51.38 L346.00 51.90 L346.50 52.53 L347.00 53.28 L347.50 54.15 L348.00 55.15 L348.50 56.27 L349.00 57.51 L349.50 58.87 L350.00 60.35 L350.50 61.94 L351.00 63.62 L351.50 65.41 L352.00 67.28 L352.50 69.23 L353.00 71.25 L353.50 73.34 L354.00 75.49 L354.50 77.70 L355.00 79.95 L355.50 82.24 L356.00 84.57 L356.50 86.92 L357.00 89.29 L357.50 91.67 L358.00 94.04 L358.50 96.39 L359.00 98.70 L359.50 100.97 L360.00 103.18 L360.50 105.33 L361.00 107.42 L361.50 109.44 L362.00 111.39 L362.50 113.27 L363.00 115.06 L363.50 116.78 L364.00 118.40 L364.50 119.94 L365.00 121.40 L365.50 122.79 L366.00 124.11 L366.50 125.37 L367.00 126.59 L367.50 127.76 L368.00 128.90 L368.50 130.01 L369.00 131.10 L369.50 132.19 L370.00 133.27 L370.50 134.35 L371.00 135.43 L371.50 136.51 L372.00 137.58 L372.50 138.64 L373.00 139.69 L373.50 140.72 L374.00 141.74 L374.50 142.74 L375.00 143.71 L375.50 144.67 L376.00 145.59 L376.50 146.49 L377.00 147.35 L377.50 148.19 L378.00 149.00 L378.50 149.79 L379.00 150.55 L379.50 151.28 L380.00 151.98 L380.50 152.67 L381.00 153.33 L381.50 153.96 L382.00 154.57 L382.50 155.16 L383.00 155.73 L383.50 156.28 L384.00 156.80 L384.50 157.31 L385.00 157.80 L385.50 158.27 L386.00 158.72 L386.50 159.15 L387.00 159.57 L387.50 159.97 L388.00 160.35 L388.50 160.72 L389.00 161.08 L389.50 161.42 L390.00 161.75 L390.50 162.07 L391.00 162.37 L391.50 162.67 L392.00 162.95 L392.50 163.22 L393.00 163.48 L393.50 163.74 L394.00 163.98 L394.50 164.22 L395.00 164.45 L395.50 164.68 L396.00 164.89 L396.50 165.11 L397.00 165.32 L397.50 165.52 L398.00 165.72 L398.50 165.91 L399.00 166.10 L399.50 166.28 L400.00 166.46 L400.50 166.63 L401.00 166.80 L401.50 166.97 L402.00 167.13 L402.50 167.28 L403.00 167.44 L403.50 167.58 L404.00 167.73 L404.50 167.87 L405.00 168.00 L405.50 168.13 L406.00 168.26 L406.50 168.39 L407.00 168.51 L407.50 168.63 L408.00 168.74 L408.50 168.85 L409.00 168.96 L409.50 169.06 L410.00 169.16 L410.50 169.26 L411.00 169.36 L411.50 169.45 L412.00 169.54 L412.50 169.63 L413.00 169.71 L413.50 169.79 L414.00 169.87 L414.50 169.95 L415.00 170.02 L415.50 170.10 L416.00 170.17 L416.50 170.23 L417.00 170.30 L417.50 170.36 L418.00 170.43 L418.50 170.49 L419.00 170.55 L419.50 170.60 L420.00 170.66 L420.50 170.71 L421.00 170.77 L421.50 170.82 L422.00 170.87 L422.50 170.92 L423.00 170.97 L423.50 171.02 L424.00 171.06 L424.50 171.11 L425.00 171.16 L425.50 171.20 L426.00 171.25 L426.50 171.29 L427.00 171.33 L427.50 171.38 L428.00 171.42 L428.50 171.46 L429.00 171.51 L429.50 171.55 L430.00 171.59 L430.50 171.64 L431.00 171.68 L431.50 171.72 L432.00 171.77 L432.50 171.81 L433.00 171.86 L433.50 171.90 L434.00 171.95 L434.50 172.00 L435.00 172.05 L435.50 172.10 L436.00 172.15 L436.50 172.20 L436.80 172.23" stroke="#d2000a" stroke-width="2"/>
<path d="M65.50 176.58 L66.00 176.56 L66.50 176.54 L67.00 176.52 L67.50 176.50 L68.00 176.48 L68.50 176.46 L69.00 176.44 L69.50 176.42 L70.00 176.40 L70.50 176.38 L71.00 176.36 L71.50 176.34 L72.00 176.31 L72.50 176.29 L73.00 176.27 L73.50 176.25 L74.00 176.22 L74.50 176.20 L75.00 176.18 L75.50 176.15 L76.00 176.13 L76.50 176.10 L77.00 176.08 L77.50 176.05 L78.00 176.03 L78.50 176.00 L79.00 175.98 L79.50 175.95 L80.00 175.92 L80.50 175.90 L81.00 175.87 L81.50 175.84 L82.00 175.81 L82.50 175.79 L83.00 175.76 L83.50 175.73 L84.00 175.70 L84.50 175.67 L85.00 175.64 L85.50 175.61 L86.00 175.58 L86.50 175.55 L87.00 175.52 L87.50 175.49 L88.00 175.46 L88.50 175.43 L89.00 175.40 L89.50 175.36 L90.00 175.33 L90.50 175.30 L91.00 175.27 L91.50 175.23 L92.00 175.20 L92.50 175.17 L93.00 175.13 L93.50 175.10 L94.00 175.06 L94.50 175.03 L95.00 174.99 L95.50 174.96 L96.00 174.92 L96.50 174.89 L97.00 174.85 L97.50 174.81 L98.00 174.78 L98.50 174.74 L99.00 174.70 L99.50 174.66 L100.00 174.63 L100.50 174.59 L101.00 174.55 L101.50 174.51 L102.00 174.47 L102.50 174.43 L103.00 174.39 L103.50 174.35 L104.00 174.31 L104.50 174.27 L105.00 174.23 L105.50 174.19 L106.00 174.15 L106.50 174.11 L107.00 174.06 L107.50 174.02 L108.00 173.98 L108.50 173.94 L109.00 173.89 L109.50 173.85 L110.00 173.81 L110.50 173.76 L111.00 173.72 L111.50 173.67 L112.00 173.63 L112.50 173.58 L113.00 173.54 L113.50 173.49 L114.00 173.44 L114.50 173.40 L115.00 173.35 L115.50 173.30 L116.00 173.26 L116.50 173.21 L117.00 173.16 L117.50 173.11 L118.00 173.07 L118.50 173.02 L119.00 172.97 L119.50 172.92 L120.00 172.87 L120.50 172.82 L121.00 172.77 L121.50 172.72 L122.00 172.67 L122.50 172.62 L123.00 172.56 L123.50 172.51 L124.00 172.46 L124.50 172.41 L125.00 172.36 L125.50 172.30 L126.00 172.25 L126.50 172.20 L127.00 172.14 L127.50 172.09 L128.00 172.04 L128.50 171.98 L129.00 171.93 L129.50 171.87 L130.00 171.82 L130.50 171.76 L131.00 171.70 L131.50 171.65 L132.00 171.59 L132.50 171.53 L133.00 171.48 L133.50 171.42 L134.00 171.36 L134.50 171.30 L135.00 171.24 L135.50 171.19 L136.00 171.13 L136.50 171.07 L137.00 171.01 L137.50 170.95 L138.00 170.89 L138.50 170.83 L139.00 170.77 L139.50 170.71 L140.00 170.64 L140.50 170.58 L141.00 170.52 L141.50 170.46 L142.00 170.40 L142.50 170.33 L143.00 170.27 L143.50 170.21 L144.00 170.14 L144.50 170.08 L145.00 170.02 L145.50 169.95 L146.00 169.89 L146.50 169.82 L147.00 169.76 L147.50 169.69 L148.00 169.62 L148.50 169.56 L149.00 169.49 L149.50 169.42 L150.00 169.36 L150.50 169.29 L151.00 169.22 L151.50 169.15 L152.00 169.08 L152.50 169.02 L153.00 168.95 L153.50 168.88 L154.00 168.81 L154.50 168.74 L155.00 168.67 L155.50 168.60 L156.00 168.53 L156.50 168.46 L157.00 168.38 L157.50 168.31 L158.00 168.24 L158.50 168.17 L159.00 168.10 L159.50 168.02 L160.00 167.95 L160.50 167.88 L161.00 167.80 L161.50 167.73 L162.00 167.65 L162.50 167.58 L163.00 167.50 L163.50 167.43 L164.00 167.35 L164.50 167.28 L165.00 167.20 L165.50 167.13 L166.00 167.05 L166.50 166.97 L167.00 166.89 L167.50 166.82 L168.00 166.74 L168.50 166.66 L169.00 166.58 L169.50 166.50 L170.00 166.42 L170.50 166.35 L171.00 166.27 L171.50 166.19 L172.00 166.11 L172.50 166.02 L173.00 165.94 L173.50 165.86 L174.00 165.78 L174.50 165.70 L175.00 165.62 L175.50 165.53 L176.00 165.45 L176.50 165.37 L177.00 165.29 L177.50 165.20 L178.00 165.12 L178.50 165.03 L179.00 164.95 L179.50 164.86 L180.00 164.78 L180.50 164.69 L181.00 164.61 L181.50 164.52 L182.00 164.44 L182.50 164.35 L183.00 164.26 L183.50 164.18 L184.00 164.09 L184.50 164.00 L185.00 163.91 L185.50 163.82 L186.00 163.74 L186.50 163.65 L187.00 163.56 L187.50 163.47 L188.00 163.38 L188.50 163.29 L189.00 163.20 L189.50 163.11 L190.00 163.01 L190.50 162.92 L191.00 162.83 L191.50 162.74 L192.00 162.65 L192.50 162.55 L193.00 162.46 L193.50 162.37 L194.00 162.27 L194.50 162.18 L195.00 162.09 L195.50 161.99 L196.00 161.90 L196.50 161.80 L197.00 161.71 L197.50 161.61 L198.00 161.52 L198.50 161.42 L199.00 161.32 L199.50 161.23 L200.00 161.13 L200.50 161.03 L201.00 160.93 L201.50 160.84 L202.00 160.74 L202.50 160.64 L203.00 160.54 L203.50 160.44 L204.00 160.34 L204.50 160.24 L205.00 160.14 L205.50 160.04 L206.00 159.94 L206.50 159.84 L207.00 159.74 L207.50 159.63 L208.00 159.53 L208.50 159.43 L209.00 159.33 L209.50 159.22 L210.00 159.12 L210.50 159.02 L211.00 158.91 L211.50 158.81 L212.00 158.71 L212.50 158.60 L213.00 158.50 L213.50 158.39 L214.00 158.28 L214.50 158.18 L215.00 158.07 L215.50 157.97 L216.00 157.86 L216.50 157.75 L217.00 157.64 L217.50 157.54 L218.00 157.43 L218.50 157.32 L219.00 157.21 L219.50 157.10 L220.00 156.99 L220.50 156.88 L221.00 156.77 L221.50 156.66 L222.00 156.55 L222.50 156.44 L223.00 156.33 L223.50 156.22 L224.00 156.11 L224.50 155.99 L225.00 155.88 L225.50 155.77 L226.00 155.65 L226.50 155.54 L227.00 155.42 L227.50 155.30 L228.00 155.18 L228.50 155.06 L229.00 154.94 L229.50 154.82 L230.00 154.69 L230.50 154.56 L231.00 154.44 L231.50 154.31 L232.00 154.17 L232.50 154.04 L233.00 153.90 L233.50 153.76 L234.00 153.62 L234.50 153.47 L235.00 153.33 L235.50 153.18 L236.00 153.02 L236.50 152.87 L237.00 152.71 L237.50 152.55 L238.00 152.38 L238.50 152.21 L239.00 152.04 L239.50 151.86 L240.00 151.68 L240.50 151.50 L241.00 151.31 L241.50 151.12 L242.00 150.93 L242.50 150.73 L243.00 150.52 L243.50 150.32 L244.00 150.10 L244.50 149.89 L245.00 149.66 L245.50 149.44 L246.00 149.20 L246.50 148.97 L247.00 148.72 L247.50 148.48 L248.00 148.22 L248.50 147.97 L249.00 147.70 L249.50 147.43 L250.00 147.16 L250.50 146.88 L251.00 146.59 L251.50 146.30 L252.00 146.00 L252.50 145.69 L253.00 145.38 L253.50 145.06 L254.00 144.74 L254.50 144.41 L255.00 144.07 L255.50 143.73 L256.00 143.37 L256.50 143.02 L257.00 142.65 L257.50 142.28 L258.00 141.90 L258.50 141.51 L259.00 141.11 L259.50 140.71 L260.00 140.30 L260.50 139.88 L261.00 139.45 L261.50 139.02 L262.00 138.57 L262.50 138.12 L263.00 137.66 L263.50 137.19 L264.00 136.71 L264.50 136.23 L265.00 135.73 L265.50 135.23 L266.00 134.72 L266.50 134.20 L267.00 133.66 L267.50 133.12 L268.00 132.57 L268.50 132.01 L269.00 131.44 L269.50 130.86 L270.00 130.26 L270.50 129.66 L271.00 129.04 L271.50 128.42 L272.00 127.78 L272.50 127.13 L273.00 126.47 L273.50 125.80 L274.00 125.11 L274.50 124.42 L275.00 123.71 L275.50 122.98 L276.00 122.25 L276.50 121.50 L277.00 120.74 L277.50 119.96 L278.00 119.17 L278.50 118.37 L279.00 117.55 L279.50 116.72 L280.00 115.87 L280.50 115.01 L281.00 114.14 L281.50 113.24 L282.00 112.34 L282.50 111.42 L283.00 110.48 L283.50 109.53 L284.00 108.56 L284.50 107.57 L285.00 106.57 L285.50 105.55 L286.00 104.52 L286.50 103.47 L287.00 102.40 L287.50 101.31 L288.00 100.21 L288.50 99.09 L289.00 97.95 L289.50 96.79 L290.00 95.62 L290.50 94.43 L291.00 93.21 L291.50 91.98 L292.00 90.73 L292.50 89.46 L293.00 88.18 L293.50 86.87 L294.00 85.55 L294.50 84.23 L295.00 82.89 L295.50 81.54 L296.00 80.20 L296.50 78.85 L297.00 77.50 L297.50 76.15 L298.00 74.81 L298.50 73.47 L299.00 72.15 L299.50 70.84 L300.00 69.54 L300.50 68.26 L301.00 67.00 L301.50 65.76 L302.00 64.55 L302.50 63.36 L303.00 62.20 L303.50 61.07 L304.00 59.97 L304.50 58.91 L305.00 57.89 L305.50 56.91 L306.00 55.97 L306.50 55.08 L307.00 54.24 L307.50 53.44 L308.00 52.70 L308.50 52.01 L309.00 51.38 L309.50 50.81 L310.00 50.30 L310.50 49.86 L311.00 49.48 L311.50 49.17 L312.00 48.93 L312.50 48.77 L313.00 48.68 L313.50 48.67 L314.00 48.74 L314.50 48.89 L315.00 49.13 L315.50 49.45 L316.00 49.87 L316.50 50.38 L317.00 50.97 L317.50 51.66 L318.00 52.43 L318.50 53.27 L319.00 54.20 L319.50 55.20 L320.00 56.26 L320.50 57.40 L321.00 58.59 L321.50 59.84 L322.00 61.15 L322.50 62.52 L323.00 63.93 L323.50 65.38 L324.00 66.88 L324.50 68.42 L325.00 69.99 L325.50 71.59 L326.00 73.22 L326.50 74.88 L327.00 76.55 L327.50 78.25 L328.00 79.96 L328.50 81.67 L329.00 83.40 L329.50 85.13 L330.00 86.86 L330.50 88.59 L331.00 90.31 L331.50 92.03 L332.00 93.74 L332.50 95.43 L333.00 97.11 L333.50 98.78 L334.00 100.42 L334.50 102.05 L335.00 103.65 L335.50 105.22 L336.00 106.77 L336.50 108.28 L337.00 109.76 L337.50 111.21 L338.00 112.62 L338.50 114.00 L339.00 115.34 L339.50 116.65 L340.00 117.93 L340.50 119.17 L341.00 120.39 L341.50 121.57 L342.00 122.72 L342.50 123.84 L343.00 124.93 L343.50 126.00 L344.00 127.03 L344.50 128.04 L345.00 129.02 L345.50 129.97 L346.00 130.90 L346.50 131.80 L347.00 132.68 L347.50 133.53 L348.00 134.36 L348.50 135.16 L349.00 135.95 L349.50 136.71 L350.00 137.45 L350.50 138.17 L351.00 138.86 L351.50 139.54 L352.00 140.20 L352.50 140.84 L353.00 141.46 L353.50 142.07 L354.00 142.66 L354.50 143.23 L355.00 143.78 L355.50 144.33 L356.00 144.85 L356.50 145.36 L357.00 145.86 L357.50 146.35 L358.00 146.82 L358.50 147.28 L359.00 147.73 L359.50 148.17 L360.00 148.60 L360.50 149.01 L361.00 149.42 L361.50 149.83 L362.00 150.22 L362.50 150.61 L363.00 150.99 L363.50 151.36 L364.00 151.73 L364.50 152.09 L365.00 152.45 L365.50 152.80 L366.00 153.15 L366.50 153.50 L367.00 153.84 L367.50 154.18 L368.00 154.52 L368.50 154.86 L369.00 155.19 L369.50 155.52 L370.00 155.85 L370.50 156.17 L371.00 156.49 L371.50 156.81 L372.00 157.12 L372.50 157.43 L373.00 157.74 L373.50 158.04 L374.00 158.34 L374.50 158.63 L375.00 158.93 L375.50 159.21 L376.00 159.50 L376.50 159.78 L377.00 160.05 L377.50 160.33 L378.00 160.60 L378.50 160.86 L379.00 161.12 L379.50 161.38 L380.00 161.63 L380.50 161.88 L381.00 162.12 L381.50 162.36 L382.00 162.59 L382.50 162.82 L383.00 163.05 L383.50 163.27 L384.00 163.49 L384.50 163.70 L385.00 163.91 L385.50 164.11 L386.00 164.31 L386.50 164.50 L387.00 164.69 L387.50 164.88 L388.00 165.06 L388.50 165.24 L389.00 165.42 L389.50 165.59 L390.00 165.75 L390.50 165.92 L391.00 166.07 L391.50 166.23 L392.00 166.38 L392.50 166.53 L393.00 166.67 L393.50 166.82 L394.00 166.95 L394.50 167.09 L395.00 167.22 L395.50 167.35 L396.00 167.47 L396.50 167.59 L397.00 167.71 L397.50 167.83 L398.00 167.94 L398.50 168.05 L399.00 168.16 L399.50 168.26 L400.00 168.36 L400.50 168.46 L401.00 168.56 L401.50 168.65 L402.00 168.74 L402.50 168.83 L403.00 168.92 L403.50 169.00 L404.00 169.08 L404.50 169.16 L405.00 169.24 L405.50 169.32 L406.00 169.39 L406.50 169.46 L407.00 169.53 L407.50 169.60 L408.00 169.66 L408.50 169.73 L409.00 169.79 L409.50 169.85 L410.00 169.91 L410.50 169.96 L411.00 170.02 L411.50 170.07 L412.00 170.13 L412.50 170.18 L413.00 170.23 L413.50 170.28 L414.00 170.33 L414.50 170.37 L415.00 170.42 L415.50 170.46 L416.00 170.51 L416.50 170.55 L417.00 170.59 L417.50 170.64 L418.00 170.68 L418.50 170.72 L419.00 170.76 L419.50 170.80 L420.00 170.83 L420.50 170.87 L421.00 170.91 L421.50 170.95 L422.00 170.99 L422.50 171.02 L423.00 171.06 L423.50 171.10 L424.00 171.13 L424.50 171.17 L425.00 171.21 L425.50 171.24 L426.00 171.28 L426.50 171.32 L427.00 171.36 L427.50 171.40 L428.00 171.43 L428.50 171.47 L429.00 171.51 L429.50 171.55 L430.00 171.59 L430.50 171.64 L431.00 171.68 L431.50 171.72 L432.00 171.77 L432.50 171.81 L433.00 171.86 L433.50 171.91 L434.00 171.95 L434.50 172.00 L435.00 172.05 L435.50 172.11 L436.00 172.16 L436.50 172.21 L436.80 172.25" stroke="#0658ac" stroke-width="2"/>
</g>
<g stroke="#000" stroke-width="1.45" fill="none">
<path d="M64.95 28.3V177.4M64.3 176.8H437.5"/>
<path d="M60.3 28.95H65M60.3 65.9H65M60.3 102.85H65M60.3 139.8H65M60.3 176.8H65" stroke-width="1.3"/>
<path d="M138.7 176.8V181.5M213.6 176.8V181.5M287.9 176.8V181.5M362.5 176.8V181.5M436.9 176.8V181.5" stroke-width="1.3"/>
<path d="M64.95 249V252"/>
</g>
<g font-size="17.6">
<text transform="translate(55.0,34.85) scale(0.884,1)" text-anchor="end">0.04</text>
<text transform="translate(55.0,71.8) scale(0.884,1)" text-anchor="end">0.03</text>
<text transform="translate(55.0,108.75) scale(0.884,1)" text-anchor="end">0.02</text>
<text transform="translate(55.0,145.7) scale(0.884,1)" text-anchor="end">0.01</text>
<text transform="translate(55.0,182.65) scale(0.884,1)" text-anchor="end">0.00</text>
<text transform="translate(138.8,198.6) scale(0.918,1)" text-anchor="middle">20</text>
<text transform="translate(213.5,198.6) scale(0.918,1)" text-anchor="middle">40</text>
<text transform="translate(288.1,198.6) scale(0.918,1)" text-anchor="middle">60</text>
<text transform="translate(362.5,198.6) scale(0.918,1)" text-anchor="middle">80</text>
<text transform="translate(437.1,198.6) scale(0.918,1)" text-anchor="middle">100</text>
</g>
<text transform="translate(223.81,220.90) scale(1.280,1.000)" font-size="16.5" font-style="italic">ω</text> <text transform="translate(243.72,221.80) scale(0.903,1.000)" font-size="19.5">(</text><text transform="translate(250.06,220.90) scale(1.199,1.000)" font-size="16.5">eV</text><text transform="translate(272.75,221.80) scale(1.026,1.000)" font-size="19.5">)</text>
<text transform="translate(223.81,-1.30) scale(1.280,1.000)" font-size="16.5" font-style="italic">ω</text> <text transform="translate(243.72,-0.40) scale(0.903,1.000)" font-size="19.5">(</text><text transform="translate(250.06,-1.30) scale(1.199,1.000)" font-size="16.5">eV</text><text transform="translate(272.75,-0.40) scale(1.026,1.000)" font-size="19.5">)</text>
<text transform="translate(82.43,46.80) scale(1.135,1.000)" font-size="15.8">Carbon</text>
<text transform="translate(82.71,64.90) scale(1.018,1.000)" font-size="15.5" font-style="italic">k</text> <text style="stroke-width:0" transform="translate(94.92,67.90) scale(1.473,1.300)" font-size="16">=</text> <text transform="translate(113.12,64.90) scale(0.912,1.000)" font-size="16">1.87</text> <text transform="translate(145.20,65.10) scale(1.026,1.130)" font-size="15.6">Å</text><text transform="translate(157.10,60.30) scale(1.455,1.000)" font-size="11">−</text><text transform="translate(166.65,59.90) scale(1.132,1.000)" font-size="10.6">1</text>
<text transform="translate(16.90,149.66) rotate(-90) scale(0.961,1.000)" font-size="19">DSF</text> <text transform="translate(16.70,111.44) rotate(-90) scale(1.169,1.000)" font-size="19.5">(</text><text transform="translate(16.90,104.60) rotate(-90) scale(1.068,1.000)" font-size="17.5">eV</text><text transform="translate(10.60,81.64) rotate(-90) scale(1.205,1.000)" font-size="14">−</text><text transform="translate(9.50,71.23) rotate(-90) scale(1.044,1.000)" font-size="14.5">1</text><text transform="translate(16.70,63.27) rotate(-90) scale(1.046,1.000)" font-size="19.5">)</text>
<rect x="254.6" y="250.8" width="1.8" height="1.4" fill="#8d58c0"/>
</svg>
</body></html>
